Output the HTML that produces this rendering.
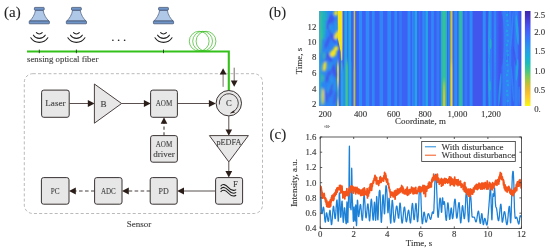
<!DOCTYPE html>
<html lang="en"><head><meta charset="utf-8"><title>Figure</title>
<style>html,body{margin:0;padding:0;background:#fff;}body{width:550px;height:252px;overflow:hidden;}svg{display:block;}text{font-family:"Liberation Serif", "DejaVu Serif", serif;fill:#333;stroke:#333;stroke-width:0.18px;stroke-opacity:0.6;}.bx{fill:#e7e7e7;stroke:#3b3333;stroke-width:1;}.ln{stroke:#5a5050;stroke-width:1;fill:none;}.ah{fill:#2b1d18;stroke:none;}.bl{font-size:9.1px;text-anchor:middle;fill:#444;}.tk{font-size:8.8px;fill:#333;}.ax{stroke:#333;stroke-width:0.8;fill:none;}</style></head><body>
<svg width="550" height="252" viewBox="0 0 550 252">
<rect x="0" y="0" width="550" height="252" fill="#ffffff"/>
<g id="panel-a">
<text x="4" y="17" style="font-size:15px;fill:#222;">(a)</text>
<path d="M35.5 10.2 L43.099999999999994 10.2 C43.9 15 46.3 18.5 48.9 21 L29.699999999999996 21 C32.3 18.5 34.699999999999996 15 35.5 10.2 Z" fill="#b0c8e8" stroke="#46597a" stroke-width="0.7"/><rect x="34.4" y="7.4" width="9.8" height="2.8" rx="0.6" fill="#6f95c9" stroke="#3c4b69" stroke-width="0.7"/><rect x="29.199999999999996" y="21" width="20.2" height="2.8" rx="0.6" fill="#6f95c9" stroke="#3c4b69" stroke-width="0.7"/>
<path d="M36.40 32.70 A3.88 3.88 0 0 0 42.20 32.70" fill="none" stroke="#222" stroke-width="1.1" stroke-linecap="round"/><path d="M33.40 35.20 A7.04 7.04 0 0 0 45.20 35.20" fill="none" stroke="#222" stroke-width="1.1" stroke-linecap="round"/><path d="M30.80 37.80 A10.15 10.15 0 0 0 47.80 37.80" fill="none" stroke="#222" stroke-width="1.1" stroke-linecap="round"/>
<path d="M72.60000000000001 10.2 L80.2 10.2 C81.0 15 83.4 18.5 86.0 21 L66.80000000000001 21 C69.4 18.5 71.80000000000001 15 72.60000000000001 10.2 Z" fill="#b0c8e8" stroke="#46597a" stroke-width="0.7"/><rect x="71.5" y="7.4" width="9.8" height="2.8" rx="0.6" fill="#6f95c9" stroke="#3c4b69" stroke-width="0.7"/><rect x="66.30000000000001" y="21" width="20.2" height="2.8" rx="0.6" fill="#6f95c9" stroke="#3c4b69" stroke-width="0.7"/>
<path d="M73.50 32.70 A3.88 3.88 0 0 0 79.30 32.70" fill="none" stroke="#222" stroke-width="1.1" stroke-linecap="round"/><path d="M70.50 35.20 A7.04 7.04 0 0 0 82.30 35.20" fill="none" stroke="#222" stroke-width="1.1" stroke-linecap="round"/><path d="M67.90 37.80 A10.15 10.15 0 0 0 84.90 37.80" fill="none" stroke="#222" stroke-width="1.1" stroke-linecap="round"/>
<path d="M159.7 10.2 L167.3 10.2 C168.1 15 170.5 18.5 173.1 21 L153.9 21 C156.5 18.5 158.9 15 159.7 10.2 Z" fill="#b0c8e8" stroke="#46597a" stroke-width="0.7"/><rect x="158.6" y="7.4" width="9.8" height="2.8" rx="0.6" fill="#6f95c9" stroke="#3c4b69" stroke-width="0.7"/><rect x="153.4" y="21" width="20.2" height="2.8" rx="0.6" fill="#6f95c9" stroke="#3c4b69" stroke-width="0.7"/>
<path d="M160.60 32.70 A3.88 3.88 0 0 0 166.40 32.70" fill="none" stroke="#222" stroke-width="1.1" stroke-linecap="round"/><path d="M157.60 35.20 A7.04 7.04 0 0 0 169.40 35.20" fill="none" stroke="#222" stroke-width="1.1" stroke-linecap="round"/><path d="M155.00 37.80 A10.15 10.15 0 0 0 172.00 37.80" fill="none" stroke="#222" stroke-width="1.1" stroke-linecap="round"/>
<text x="111.2" y="41.2" style="font-size:13px;fill:#222;letter-spacing:2.6px;">...</text>
<circle cx="199.2" cy="41.2" r="9.9" fill="none" stroke="#35b81c" stroke-width="0.7"/>
<circle cx="202.6" cy="41.2" r="9.9" fill="none" stroke="#35b81c" stroke-width="0.7"/>
<circle cx="206.0" cy="41.2" r="9.9" fill="none" stroke="#35b81c" stroke-width="0.7"/>
<path d="M27 51.5 L228.8 51.5 L228.8 91" fill="none" stroke="#34c11a" stroke-width="2.1" stroke-linejoin="miter"/>
<line x1="39.3" y1="49.6" x2="39.3" y2="53.2" stroke="#1e3a1a" stroke-width="0.9"/>
<line x1="76.4" y1="49.6" x2="76.4" y2="53.2" stroke="#1e3a1a" stroke-width="0.9"/>
<line x1="163.5" y1="49.6" x2="163.5" y2="53.2" stroke="#1e3a1a" stroke-width="0.9"/>
<text x="27" y="62.3" style="font-size:8.8px;fill:#444;">sensing optical fiber</text>
<rect x="24.3" y="73.7" width="238.2" height="139.8" rx="8.5" fill="none" stroke="#a8a8a8" stroke-width="0.8" stroke-dasharray="3 2.2"/>
<line x1="223.1" y1="73.5" x2="223.1" y2="86.8" class="ln" style="stroke:#7a6f6c"/>
<path class="ah" d="M223.1 68.2 L226.5 74.6 L219.7 74.6 Z"/>
<line x1="234.2" y1="67.7" x2="234.2" y2="81.2" class="ln" style="stroke:#7a6f6c"/>
<path class="ah" d="M234.2 86.8 L237.6 80.4 L230.8 80.4 Z"/>
<line x1="69.4" y1="103.5" x2="89" y2="103.5" class="ln"/>
<path class="ah" d="M94.6 103.5 L87.8 100.1 L87.8 106.9 Z"/>
<line x1="121.4" y1="103.5" x2="145" y2="103.5" class="ln"/>
<path class="ah" d="M150.7 103.5 L143.9 100.1 L143.9 106.9 Z"/>
<line x1="177.3" y1="103.5" x2="210" y2="103.5" class="ln"/>
<path class="ah" d="M215.9 103.5 L208.9 100.1 L208.9 106.9 Z"/>
<rect class="bx" x="41.6" y="90.1" width="27.6" height="27.2" rx="2.2"/>
<text class="bl" x="55.4" y="106.4">Laser</text>
<path class="bx" d="M94.4 84 L121.6 103.5 L94.4 123.2 Z" style="stroke:#4a4040"/>
<text class="bl" x="103.6" y="106.5">B</text>
<rect class="bx" x="150.6" y="90.1" width="26.8" height="27.2" rx="2.2"/>
<text class="bl" x="164" y="106.4" textLength="16.6" lengthAdjust="spacingAndGlyphs">AOM</text>
<circle cx="228.8" cy="103.2" r="12.7" class="bx"/>
<path d="M219.39 104.52 A9.5 9.5 0 1 1 233.26 111.59" fill="none" stroke="#3a3232" stroke-width="0.9"/>
<path class="ah" d="M229.6 113.6 L233.6 110.4 L234.9 112.4 Z"/>
<text class="bl" x="228.9" y="106.2" style="font-size:8.6px;fill:#3a3a3a">C</text>
<line x1="228.8" y1="115.9" x2="228.8" y2="131" class="ln"/>
<path class="ah" d="M228.8 135.8 L225.5 129.4 L232.1 129.4 Z"/>
<path class="bx" d="M209.4 135.6 L248.4 135.6 L228.8 161.9 Z" style="stroke:#4a4040"/>
<text class="bl" x="228.9" y="144.6" style="font-size:8.9px" textLength="25" lengthAdjust="spacingAndGlyphs">pEDFA</text>
<line x1="228.8" y1="161.9" x2="228.8" y2="172" class="ln"/>
<path class="ah" d="M228.8 177.6 L225.4 171.0 L232.2 171.0 Z"/>
<rect class="bx" x="215.6" y="177.6" width="27" height="26.6" rx="2.2"/>
<text x="233" y="187.3" style="font-size:8.8px;fill:#444;">F</text>
<path d="M220.6 186.30 C222.6 183.60 225.4 184.20 228.2 187.40 S233.4 191.20 236.2 189.60" fill="none" stroke="#1c1c1c" stroke-width="1.05"/>
<path d="M220.6 189.10 C222.6 186.40 225.4 187.00 228.2 190.20 S233.4 194.00 236.2 192.40" fill="none" stroke="#1c1c1c" stroke-width="1.05"/>
<path d="M220.6 191.90 C222.6 189.20 225.4 189.80 228.2 193.00 S233.4 196.80 236.2 195.20" fill="none" stroke="#1c1c1c" stroke-width="1.05"/>
<rect class="bx" x="150.6" y="135.6" width="26.8" height="26.6" rx="2.2"/>
<text class="bl" x="164" y="147.2" textLength="16.6" lengthAdjust="spacingAndGlyphs">AOM</text>
<text class="bl" x="164" y="156.6">driver</text>
<line x1="164" y1="135.6" x2="164" y2="122.5" class="ln" stroke-dasharray="3.4 2.4" style="stroke:#4a4040;stroke-width:1.1"/>
<path class="ah" d="M164 117.3 L167.3 123.7 L160.7 123.7 Z"/>
<line x1="215.6" y1="191" x2="183" y2="191" class="ln"/>
<path class="ah" d="M177.2 191 L184 187.6 L184 194.4 Z"/>
<rect class="bx" x="150.2" y="177.6" width="27" height="26.6" rx="2.2"/>
<text class="bl" x="163.7" y="194" textLength="10.2" lengthAdjust="spacingAndGlyphs">PD</text>
<line x1="150.2" y1="191" x2="128" y2="191" class="ln" stroke-dasharray="3.6 2.4" style="stroke:#4a4040;stroke-width:1.1"/>
<path class="ah" d="M122 191 L128.8 187.6 L128.8 194.4 Z"/>
<rect class="bx" x="94.6" y="177.6" width="27.4" height="26.6" rx="2.2"/>
<text class="bl" x="108.3" y="194" textLength="14.8" lengthAdjust="spacingAndGlyphs">ADC</text>
<line x1="94.6" y1="191" x2="75" y2="191" class="ln" stroke-dasharray="3.6 2.4" style="stroke:#4a4040;stroke-width:1.1"/>
<path class="ah" d="M69 191 L75.8 187.6 L75.8 194.4 Z"/>
<rect class="bx" x="41.4" y="177.6" width="27.6" height="26.6" rx="2.2"/>
<text class="bl" x="55.2" y="194" textLength="8.8" lengthAdjust="spacingAndGlyphs">PC</text>
<text class="bl" x="139" y="227.4" style="font-size:9px">Sensor</text>
</g>
<g id="panel-b">
<text x="269" y="17" style="font-size:14.6px;fill:#222;">(b)</text>
<defs><clipPath id="cpb"><rect x="319.3" y="11.0" width="202.2" height="95.0"/></clipPath>
<linearGradient id="cbar" x1="0" y1="0" x2="0" y2="1"><stop offset="0" stop-color="#3e26a8"/><stop offset="0.08" stop-color="#4539cf"/><stop offset="0.16" stop-color="#4752f0"/><stop offset="0.24" stop-color="#4169fd"/><stop offset="0.32" stop-color="#2f83f8"/><stop offset="0.40" stop-color="#289be8"/><stop offset="0.48" stop-color="#1baedb"/><stop offset="0.55" stop-color="#1dbbb9"/><stop offset="0.62" stop-color="#3fc68f"/><stop offset="0.69" stop-color="#7ccb5c"/><stop offset="0.76" stop-color="#bdc137"/><stop offset="0.83" stop-color="#edba31"/><stop offset="0.90" stop-color="#fdca2f"/><stop offset="0.96" stop-color="#f6e51e"/><stop offset="1" stop-color="#f9fb15"/></linearGradient><filter id="blur1" x="-20%" y="-20%" width="140%" height="140%"><feGaussianBlur stdDeviation="0.45"/></filter><filter id="blur2" x="-30%" y="-30%" width="160%" height="160%"><feGaussianBlur stdDeviation="0.9"/></filter><filter id="blury" x="-10%" y="-10%" width="120%" height="120%"><feGaussianBlur stdDeviation="0.4 3"/></filter><filter id="blurx" x="-5%" y="-5%" width="110%" height="110%"><feGaussianBlur stdDeviation="0.55 0"/></filter></defs>
<g clip-path="url(#cpb)">
<rect x="319.3" y="11.0" width="202.2" height="95.0" fill="#3c62f5"/>
<g filter="url(#blurx)">
<rect x="318" y="5" width="19.6" height="106" fill="#2f84f4"/>
<rect x="344.35" y="7.0" width="2.80" height="103.0" fill="#22a6e4" opacity="1.00"/>
<rect x="348.35" y="7.0" width="2.70" height="103.0" fill="#22a6e4" opacity="1.00"/>
<rect x="353.70" y="7.0" width="1.50" height="103.0" fill="#d4c534" opacity="1.00"/>
<rect x="358.95" y="7.0" width="3.10" height="103.0" fill="#2f8cf6" opacity="1.00"/>
<rect x="365.75" y="7.0" width="3.50" height="103.0" fill="#2f8cf6" opacity="0.96"/>
<rect x="371.95" y="7.0" width="2.70" height="103.0" fill="#2f8cf6" opacity="0.90"/>
<rect x="379.55" y="7.0" width="3.50" height="103.0" fill="#2f8cf6" opacity="0.84"/>
<rect x="387.35" y="7.0" width="3.70" height="103.0" fill="#2f8cf6" opacity="0.90"/>
<rect x="394.35" y="7.0" width="2.70" height="103.0" fill="#2f8cf6" opacity="0.90"/>
<rect x="399.35" y="7.0" width="2.50" height="103.0" fill="#2f8cf6" opacity="0.60"/>
<rect x="407.55" y="7.0" width="2.90" height="103.0" fill="#2f8cf6" opacity="1.00"/>
<rect x="411.95" y="7.0" width="1.90" height="103.0" fill="#2f8cf6" opacity="0.84"/>
<rect x="414.55" y="7.0" width="2.50" height="103.0" fill="#22a6e4" opacity="1.00"/>
<rect x="418.75" y="7.0" width="1.50" height="103.0" fill="#2f8cf6" opacity="0.36"/>
<rect x="422.35" y="7.0" width="2.40" height="103.0" fill="#2f8cf6" opacity="0.90"/>
<rect x="425.45" y="7.0" width="2.50" height="103.0" fill="#22a6e4" opacity="1.00"/>
<rect x="431.15" y="7.0" width="2.70" height="103.0" fill="#2f8cf6" opacity="0.90"/>
<rect x="436.35" y="7.0" width="2.90" height="103.0" fill="#2f8cf6" opacity="0.54"/>
<rect x="440.80" y="7.0" width="6.20" height="103.0" fill="#20b9b8" opacity="0.95"/>
<rect x="442.40" y="7.0" width="3.20" height="103.0" fill="#45c788" opacity="0.60"/>
<rect x="447.95" y="7.0" width="1.90" height="103.0" fill="#2f8cf6" opacity="0.72"/>
<rect x="450.40" y="7.0" width="2.10" height="103.0" fill="#b9c43a" opacity="1.00"/>
<rect x="450.80" y="7.0" width="1.30" height="103.0" fill="#d9c72e" opacity="0.90"/>
<rect x="454.15" y="7.0" width="2.90" height="103.0" fill="#2f8cf6" opacity="1.00"/>
<rect x="458.60" y="7.0" width="4.20" height="103.0" fill="#20b9b8" opacity="0.90"/>
<rect x="459.60" y="7.0" width="2.20" height="103.0" fill="#45c788" opacity="0.50"/>
<rect x="464.35" y="7.0" width="2.90" height="103.0" fill="#2f8cf6" opacity="0.54"/>
<rect x="469.55" y="7.0" width="2.90" height="103.0" fill="#2f8cf6" opacity="1.00"/>
<rect x="473.00" y="7.0" width="10.00" height="103.0" fill="#4350e8" opacity="0.65"/>
<rect x="482.75" y="7.0" width="2.90" height="103.0" fill="#2f8cf6" opacity="1.00"/>
<rect x="486.00" y="7.0" width="2.00" height="103.0" fill="#4350e8" opacity="0.50"/>
<rect x="488.35" y="7.0" width="3.50" height="103.0" fill="#2f8cf6" opacity="0.72"/>
<rect x="493.75" y="7.0" width="2.50" height="103.0" fill="#2f8cf6" opacity="0.66"/>
<rect x="498.60" y="7.0" width="2.40" height="103.0" fill="#4350e8" opacity="0.80"/>
<rect x="502.35" y="7.0" width="3.90" height="103.0" fill="#2f8cf6" opacity="0.66"/>
<rect x="508.75" y="7.0" width="2.50" height="103.0" fill="#2f8cf6" opacity="0.66"/>
<rect x="514.35" y="7.0" width="3.50" height="103.0" fill="#2f8cf6" opacity="0.66"/>
<rect x="519.40" y="7.0" width="2.10" height="103.0" fill="#4350e8" opacity="0.80"/>
</g>
<g filter="url(#blur1)">
<path d="M337.7 5 L342.5 5 L342.5 44 L342.3 60 L341.0 61 L340.7 52 L339 44 L337.7 38 Z" fill="#f5e51f"/>
</g>
<g filter="url(#blury)">
<rect x="340.9" y="60" width="1.5" height="9" fill="#45c788" opacity="0.9"/>
<rect x="340.8" y="68" width="3.0" height="50" fill="#22a6e4" opacity="0.9"/>
<rect x="337.1" y="63" width="1.7" height="22" fill="#f5e51f"/>
<rect x="337.1" y="86" width="1.7" height="15" fill="#45c788" opacity="0.9"/>
<rect x="337.1" y="102" width="1.7" height="12" fill="#f5e51f"/>
<rect x="345.6" y="62" width="2.3" height="56" fill="#45c788" opacity="0.9"/>
<rect x="349.6" y="62" width="2.0" height="56" fill="#22a6e4" opacity="0.6"/>
<rect x="353.7" y="68" width="1.5" height="50" fill="#b9c43a" opacity="0.9"/>
<rect x="442.8" y="82" width="2.6" height="36" fill="#b9c43a" opacity="0.85"/>
<rect x="443.3" y="92" width="1.7" height="26" fill="#e3bd33" opacity="0.95"/>
<rect x="450.6" y="64" width="1.7" height="54" fill="#f5e51f" opacity="0.55"/>
</g>
<g filter="url(#blur2)">
<ellipse cx="320.4" cy="30" rx="1.6" ry="26" transform="rotate(0 320.4 30)" fill="#45c788" opacity="0.95"/>
<ellipse cx="323.4" cy="24" rx="2.4" ry="16" transform="rotate(0 323.4 24)" fill="#20b9b8" opacity="0.9"/>
<ellipse cx="320.2" cy="80" rx="1.2" ry="28" transform="rotate(0 320.2 80)" fill="#20b9b8" opacity="0.85"/>
<ellipse cx="326.5" cy="15" rx="1.5" ry="6" transform="rotate(0 326.5 15)" fill="#20b9b8" opacity="0.6"/>
<ellipse cx="329.2" cy="22" rx="1.9" ry="8" transform="rotate(18 329.2 22)" fill="#4350e8" opacity="0.9"/>
<ellipse cx="332.4" cy="36" rx="1.7" ry="8" transform="rotate(-22 332.4 36)" fill="#4350e8" opacity="0.9"/>
<ellipse cx="327.6" cy="42" rx="1.5" ry="7" transform="rotate(20 327.6 42)" fill="#4350e8" opacity="0.85"/>
<ellipse cx="333.2" cy="20" rx="1.3" ry="6" transform="rotate(-12 333.2 20)" fill="#4350e8" opacity="0.8"/>
<ellipse cx="329.6" cy="58" rx="1.6" ry="6" transform="rotate(-25 329.6 58)" fill="#4350e8" opacity="0.85"/>
<ellipse cx="333.8" cy="70" rx="1.9" ry="8" transform="rotate(-15 333.8 70)" fill="#4350e8" opacity="0.9"/>
<ellipse cx="328.4" cy="76" rx="1.7" ry="7" transform="rotate(20 328.4 76)" fill="#4350e8" opacity="0.85"/>
<ellipse cx="331.4" cy="90" rx="1.7" ry="8" transform="rotate(15 331.4 90)" fill="#4350e8" opacity="0.85"/>
<ellipse cx="326.2" cy="96" rx="1.4" ry="7" transform="rotate(-10 326.2 96)" fill="#4350e8" opacity="0.8"/>
<ellipse cx="335" cy="98" rx="1.2" ry="7" transform="rotate(10 335 98)" fill="#4350e8" opacity="0.8"/>
<ellipse cx="326.6" cy="58" rx="1.2" ry="5" transform="rotate(20 326.6 58)" fill="#4350e8" opacity="0.7"/>
<ellipse cx="331" cy="29" rx="1.1" ry="6" transform="rotate(-20 331 29)" fill="#22a6e4" opacity="0.8"/>
<ellipse cx="335.6" cy="26" rx="1.1" ry="5" transform="rotate(-12 335.6 26)" fill="#22a6e4" opacity="0.8"/>
<ellipse cx="330.6" cy="66" rx="1.2" ry="5" transform="rotate(25 330.6 66)" fill="#22a6e4" opacity="0.8"/>
<ellipse cx="331.2" cy="80" rx="1.1" ry="5" transform="rotate(-20 331.2 80)" fill="#22a6e4" opacity="0.7"/>
<ellipse cx="328.6" cy="88" rx="1.0" ry="5" transform="rotate(20 328.6 88)" fill="#22a6e4" opacity="0.7"/>
<ellipse cx="334.2" cy="86" rx="1.0" ry="5" transform="rotate(20 334.2 86)" fill="#22a6e4" opacity="0.7"/>
<ellipse cx="336.0" cy="13" rx="2.0" ry="2.8" transform="rotate(0 336.0 13)" fill="#f5e51f" opacity="1"/>
<ellipse cx="336.8" cy="35.4" rx="2.1" ry="4.2" transform="rotate(20 336.8 35.4)" fill="#f5e51f" opacity="1"/>
<ellipse cx="333.0" cy="53.6" rx="3.0" ry="3.6" transform="rotate(30 333.0 53.6)" fill="#f5e51f" opacity="1"/>
<ellipse cx="335.8" cy="49" rx="2.2" ry="3.0" transform="rotate(30 335.8 49)" fill="#f5e51f" opacity="1"/>
<ellipse cx="324.6" cy="66.5" rx="1.7" ry="5.0" transform="rotate(8 324.6 66.5)" fill="#f5e51f" opacity="1"/>
<ellipse cx="322.9" cy="96.5" rx="1.2" ry="8.8" transform="rotate(0 322.9 96.5)" fill="#f5e51f" opacity="1"/>
<ellipse cx="322.8" cy="78" rx="1.2" ry="4" transform="rotate(0 322.8 78)" fill="#45c788" opacity="0.8"/>
<ellipse cx="324.0" cy="56" rx="1.2" ry="4" transform="rotate(0 324.0 56)" fill="#45c788" opacity="0.7"/>
</g>
<g filter="url(#blur1)">
<ellipse cx="489.4" cy="34" rx="1.2" ry="28" transform="rotate(1 489.4 34)" fill="#22a6e4" opacity="0.8"/>
<ellipse cx="489.2" cy="84" rx="1.1" ry="26" transform="rotate(-1 489.2 84)" fill="#22a6e4" opacity="0.8"/>
<ellipse cx="490.6" cy="44" rx="0.9" ry="5" transform="rotate(0 490.6 44)" fill="#20b9b8" opacity="0.85"/>
<ellipse cx="490.0" cy="86" rx="0.9" ry="5" transform="rotate(0 490.0 86)" fill="#20b9b8" opacity="0.7"/>
<ellipse cx="495.0" cy="40" rx="0.9" ry="32" transform="rotate(0 495.0 40)" fill="#2f8cf6" opacity="0.75"/>
<ellipse cx="494.6" cy="92" rx="0.8" ry="14" transform="rotate(0 494.6 92)" fill="#2f8cf6" opacity="0.6"/>
<ellipse cx="499.8" cy="90" rx="1.0" ry="17" transform="rotate(4 499.8 90)" fill="#22a6e4" opacity="0.8"/>
<ellipse cx="501.6" cy="40" rx="2.0" ry="26" transform="rotate(0 501.6 40)" fill="#4350e8" opacity="0.7"/>
<ellipse cx="507.3" cy="34" rx="1.7" ry="26" transform="rotate(0 507.3 34)" fill="#2f8cf6" opacity="0.7"/>
<ellipse cx="507.6" cy="82" rx="1.7" ry="26" transform="rotate(0 507.6 82)" fill="#2f8cf6" opacity="0.7"/>
<ellipse cx="511.9" cy="30" rx="0.9" ry="20" transform="rotate(4 511.9 30)" fill="#2f8cf6" opacity="0.8"/>
<ellipse cx="512.4" cy="84" rx="0.9" ry="18" transform="rotate(-4 512.4 84)" fill="#2f8cf6" opacity="0.7"/>
<ellipse cx="517.2" cy="30" rx="1.3" ry="15" transform="rotate(-4 517.2 30)" fill="#22a6e4" opacity="0.9"/>
<ellipse cx="517.0" cy="70" rx="1.2" ry="11" transform="rotate(4 517.0 70)" fill="#22a6e4" opacity="0.9"/>
<ellipse cx="519.2" cy="96" rx="1.0" ry="10" transform="rotate(0 519.2 96)" fill="#2f8cf6" opacity="0.7"/>
<ellipse cx="514.6" cy="56" rx="1.0" ry="10" transform="rotate(-8 514.6 56)" fill="#4350e8" opacity="0.6"/>
<ellipse cx="507.0" cy="15" rx="1.2" ry="1.3" transform="rotate(0 507.0 15)" fill="#22a6e4" opacity="0.85"/>
<ellipse cx="507.4" cy="21" rx="1.2" ry="1.3" transform="rotate(0 507.4 21)" fill="#22a6e4" opacity="0.85"/>
<ellipse cx="507.8" cy="25" rx="1.2" ry="1.3" transform="rotate(0 507.8 25)" fill="#22a6e4" opacity="0.85"/>
<ellipse cx="507.0" cy="31" rx="1.2" ry="1.3" transform="rotate(0 507.0 31)" fill="#22a6e4" opacity="0.85"/>
<ellipse cx="507.4" cy="35" rx="1.2" ry="1.3" transform="rotate(0 507.4 35)" fill="#22a6e4" opacity="0.85"/>
<ellipse cx="507.8" cy="41" rx="1.2" ry="1.3" transform="rotate(0 507.8 41)" fill="#22a6e4" opacity="0.85"/>
<ellipse cx="507.0" cy="45" rx="1.2" ry="1.3" transform="rotate(0 507.0 45)" fill="#22a6e4" opacity="0.85"/>
<ellipse cx="507.4" cy="51" rx="1.2" ry="1.3" transform="rotate(0 507.4 51)" fill="#22a6e4" opacity="0.85"/>
<ellipse cx="507.8" cy="55" rx="1.2" ry="1.3" transform="rotate(0 507.8 55)" fill="#22a6e4" opacity="0.85"/>
<ellipse cx="507.0" cy="61" rx="1.2" ry="1.3" transform="rotate(0 507.0 61)" fill="#22a6e4" opacity="0.85"/>
<ellipse cx="507.4" cy="65" rx="1.2" ry="1.3" transform="rotate(0 507.4 65)" fill="#22a6e4" opacity="0.85"/>
<ellipse cx="507.8" cy="71" rx="1.2" ry="1.3" transform="rotate(0 507.8 71)" fill="#22a6e4" opacity="0.85"/>
<ellipse cx="507.0" cy="75" rx="1.2" ry="1.3" transform="rotate(0 507.0 75)" fill="#22a6e4" opacity="0.85"/>
<ellipse cx="507.4" cy="81" rx="1.2" ry="1.3" transform="rotate(0 507.4 81)" fill="#22a6e4" opacity="0.85"/>
<ellipse cx="507.8" cy="85" rx="1.2" ry="1.3" transform="rotate(0 507.8 85)" fill="#22a6e4" opacity="0.85"/>
<ellipse cx="507.0" cy="91" rx="1.2" ry="1.3" transform="rotate(0 507.0 91)" fill="#22a6e4" opacity="0.85"/>
<ellipse cx="507.4" cy="95" rx="1.2" ry="1.3" transform="rotate(0 507.4 95)" fill="#22a6e4" opacity="0.85"/>
<ellipse cx="507.8" cy="101" rx="1.2" ry="1.3" transform="rotate(0 507.8 101)" fill="#22a6e4" opacity="0.85"/>
</g>
</g>
<rect x="524.9" y="11" width="5.6" height="95" fill="url(#cbar)"/>
<text class="tk" x="534.2" y="17.7">2.5</text>
<text class="tk" x="534.2" y="35.3">2.0</text>
<text class="tk" x="534.2" y="54.1">1.5</text>
<text class="tk" x="534.2" y="73.9">1.0</text>
<text class="tk" x="534.2" y="92.9">0.5</text>
<text class="tk" x="534.2" y="111.5">0.</text>
<text class="tk" x="316.4" y="30.4" text-anchor="end">12</text>
<text class="tk" x="316.4" y="45.3" text-anchor="end">10</text>
<text class="tk" x="316.4" y="60.3" text-anchor="end">8</text>
<text class="tk" x="316.4" y="75.9" text-anchor="end">6</text>
<text class="tk" x="316.4" y="91.5" text-anchor="end">4</text>
<text class="tk" x="316.4" y="107.10000000000001" text-anchor="end">2</text>
<text class="tk" x="325" y="117.3" text-anchor="middle">200</text>
<text class="tk" x="360.5" y="117.3" text-anchor="middle">400</text>
<text class="tk" x="393.6" y="117.3" text-anchor="middle">600</text>
<text class="tk" x="425" y="117.3" text-anchor="middle">800</text>
<text class="tk" x="457.4" y="117.3" text-anchor="middle">1,000</text>
<text class="tk" x="491" y="117.3" text-anchor="middle">1,200</text>
<text class="tk" x="420.5" y="124.2" text-anchor="middle" style="font-size:8.9px">Coordinate, m</text>
<text class="tk" transform="translate(301.8 61) rotate(-90)" text-anchor="middle" style="font-size:8.9px">Time, s</text>
</g>
<g id="panel-c">
<text x="269.6" y="139.4" style="font-size:15px;fill:#222;">(c)</text>
<text x="324" y="128" style="font-size:3.2px;fill:#777;">×10⁴</text>
<defs><clipPath id="cpc"><rect x="320.2" y="137.0" width="201.2" height="91.4"/></clipPath></defs>
<g clip-path="url(#cpc)">
<polyline fill="none" stroke="#1c80d6" stroke-width="1.25" stroke-linejoin="round" points="320.2,191.1 320.3,189.8 320.4,188.9 320.5,188.3 320.5,188.0 320.6,188.3 320.7,189.0 320.8,190.2 320.9,191.9 321.0,194.0 321.0,196.4 321.1,198.9 321.2,201.4 321.3,203.9 321.4,206.1 321.5,208.1 321.5,209.8 321.6,211.1 321.7,212.2 321.8,212.9 321.9,213.4 322.0,213.6 322.0,213.7 322.1,213.6 322.2,213.4 322.3,213.1 322.4,212.7 322.5,212.2 322.5,211.7 322.6,211.2 322.7,210.6 322.8,210.0 322.9,209.4 323.0,208.9 323.1,208.4 323.1,208.0 323.2,207.7 323.3,207.4 323.4,207.3 323.5,207.2 323.6,207.2 323.6,207.4 323.7,207.8 323.8,208.3 323.9,208.9 324.0,209.7 324.1,210.5 324.1,211.5 324.2,212.5 324.3,213.5 324.4,214.6 324.5,215.7 324.6,216.7 324.6,217.8 324.7,218.7 324.8,219.6 324.9,220.3 325.0,221.0 325.1,221.5 325.1,221.8 325.2,222.1 325.3,222.1 325.4,222.0 325.5,221.6 325.6,221.1 325.6,220.3 325.7,219.5 325.8,218.5 325.9,217.5 326.0,216.5 326.1,215.6 326.2,214.7 326.2,213.9 326.3,213.4 326.4,213.0 326.5,212.8 326.6,212.8 326.7,212.9 326.7,213.1 326.8,213.3 326.9,213.7 327.0,214.1 327.1,214.6 327.2,215.2 327.2,215.8 327.3,216.4 327.4,217.0 327.5,217.6 327.6,218.3 327.7,218.9 327.7,219.4 327.8,219.9 327.9,220.3 328.0,220.7 328.1,221.0 328.2,221.2 328.2,221.3 328.3,221.3 328.4,221.2 328.5,221.0 328.6,220.6 328.7,220.1 328.8,219.5 328.8,218.8 328.9,218.0 329.0,217.1 329.1,216.3 329.2,215.4 329.3,214.5 329.3,213.7 329.4,212.9 329.5,212.2 329.6,211.6 329.7,211.1 329.8,210.7 329.8,210.4 329.9,210.3 330.0,210.4 330.1,210.6 330.2,211.0 330.3,211.6 330.3,212.4 330.4,213.3 330.5,214.3 330.6,215.5 330.7,216.6 330.8,217.8 330.8,219.0 330.9,220.1 331.0,221.2 331.1,222.2 331.2,223.0 331.3,223.7 331.3,224.2 331.4,224.5 331.5,224.6 331.6,224.5 331.7,224.3 331.8,223.9 331.9,223.3 331.9,222.7 332.0,221.9 332.1,220.9 332.2,219.9 332.3,218.8 332.4,217.7 332.4,216.5 332.5,215.3 332.6,214.1 332.7,212.9 332.8,211.7 332.9,210.6 332.9,209.7 333.0,208.8 333.1,208.0 333.2,207.4 333.3,206.9 333.4,206.5 333.4,206.4 333.5,206.3 333.6,206.5 333.7,206.8 333.8,207.2 333.9,207.8 333.9,208.5 334.0,209.3 334.1,210.1 334.2,211.1 334.3,212.0 334.4,213.0 334.5,214.0 334.5,214.9 334.6,215.8 334.7,216.6 334.8,217.3 334.9,217.8 335.0,218.3 335.0,218.5 335.1,218.7 335.2,218.6 335.3,218.4 335.4,218.0 335.5,217.4 335.5,216.6 335.6,215.7 335.7,214.6 335.8,213.5 335.9,212.2 336.0,210.9 336.0,209.6 336.1,208.2 336.2,206.9 336.3,205.6 336.4,204.4 336.5,203.3 336.5,202.4 336.6,201.5 336.7,200.9 336.8,200.4 336.9,200.1 337.0,200.0 337.1,200.1 337.1,200.8 337.2,201.8 337.3,203.1 337.4,204.8 337.5,206.7 337.6,208.8 337.6,210.9 337.7,213.1 337.8,215.1 337.9,216.9 338.0,218.5 338.1,219.8 338.1,220.7 338.2,221.2 338.3,221.2 338.4,220.5 338.5,219.1 338.6,217.1 338.6,214.5 338.7,211.5 338.8,208.3 338.9,205.0 339.0,201.9 339.1,199.0 339.1,196.5 339.2,194.6 339.3,193.4 339.4,192.9 339.5,193.1 339.6,193.7 339.6,194.8 339.7,196.2 339.8,198.0 339.9,200.0 340.0,202.2 340.1,204.5 340.2,206.9 340.2,209.2 340.3,211.3 340.4,213.2 340.5,214.8 340.6,216.0 340.7,216.9 340.7,217.3 340.8,217.2 340.9,216.9 341.0,216.1 341.1,215.1 341.2,213.9 341.2,212.4 341.3,210.8 341.4,209.1 341.5,207.4 341.6,205.8 341.7,204.4 341.7,203.1 341.8,202.1 341.9,201.4 342.0,201.0 342.1,201.0 342.2,201.4 342.2,202.3 342.3,203.6 342.4,205.2 342.5,207.1 342.6,209.2 342.7,211.5 342.8,213.7 342.8,215.8 342.9,217.8 343.0,219.5 343.1,220.9 343.2,221.8 343.3,222.4 343.3,222.4 343.4,222.1 343.5,221.5 343.6,220.5 343.7,219.3 343.8,217.9 343.8,216.3 343.9,214.7 344.0,213.1 344.1,211.6 344.2,210.3 344.3,209.2 344.3,208.4 344.4,207.9 344.5,207.8 344.6,207.9 344.7,208.2 344.8,208.7 344.8,209.3 344.9,210.1 345.0,211.1 345.1,212.1 345.2,213.2 345.3,214.4 345.3,215.6 345.4,216.8 345.5,218.0 345.6,219.1 345.7,220.2 345.8,221.2 345.9,222.0 345.9,222.7 346.0,223.3 346.1,223.6 346.2,223.8 346.3,223.7 346.4,222.2 346.4,219.5 346.5,215.9 346.6,211.9 346.7,208.0 346.8,204.7 346.9,202.6 346.9,201.9 347.0,202.4 347.1,203.9 347.2,206.3 347.3,209.3 347.4,212.5 347.4,215.8 347.5,218.7 347.6,221.0 347.7,222.3 347.8,222.7 347.9,222.0 347.9,220.1 348.0,217.2 348.1,213.6 348.2,209.6 348.3,205.5 348.4,201.5 348.5,198.2 348.5,195.5 348.6,193.7 348.7,192.4 348.8,191.3 348.9,189.4 349.0,185.6 349.0,178.8 349.1,169.1 349.2,158.3 349.3,149.6 349.4,146.1 349.5,149.7 349.5,159.2 349.6,171.9 349.7,184.7 349.8,195.1 349.9,202.1 350.0,205.9 350.0,207.5 350.1,207.6 350.2,207.2 350.3,206.6 350.4,206.2 350.5,206.1 350.5,206.3 350.6,206.8 350.7,207.6 350.8,208.5 350.9,209.4 351.0,209.8 351.1,209.5 351.1,207.7 351.2,204.2 351.3,198.5 351.4,191.1 351.5,182.9 351.6,175.4 351.6,170.1 351.7,168.2 351.8,170.0 351.9,174.7 352.0,180.9 352.1,187.2 352.1,192.6 352.2,196.7 352.3,199.5 352.4,201.3 352.5,202.6 352.6,203.8 352.6,205.3 352.7,207.0 352.8,209.0 352.9,211.2 353.0,213.5 353.1,215.7 353.1,217.7 353.2,219.4 353.3,220.6 353.4,221.3 353.5,221.3 353.6,220.2 353.6,217.8 353.7,214.8 353.8,211.6 353.9,208.9 354.0,207.2 354.1,206.8 354.2,207.2 354.2,207.9 354.3,209.0 354.4,210.4 354.5,212.0 354.6,213.7 354.7,215.5 354.7,217.1 354.8,218.6 354.9,219.7 355.0,220.5 355.1,221.0 355.2,220.8 355.2,219.7 355.3,217.7 355.4,215.0 355.5,212.1 355.6,209.3 355.7,206.9 355.7,205.4 355.8,204.9 355.9,205.8 356.0,208.2 356.1,211.7 356.2,215.8 356.2,219.8 356.3,223.1 356.4,225.2 356.5,225.7 356.6,225.1 356.7,223.6 356.8,221.3 356.8,218.4 356.9,215.1 357.0,211.6 357.1,208.3 357.2,205.2 357.3,202.8 357.3,201.0 357.4,200.1 357.5,200.1 357.6,200.5 357.7,201.4 357.8,202.6 357.8,204.0 357.9,205.7 358.0,207.6 358.1,209.5 358.2,211.3 358.3,212.9 358.3,214.4 358.4,215.5 358.5,216.2 358.6,216.6 358.7,216.6 358.8,216.4 358.8,216.1 358.9,215.7 359.0,215.2 359.1,214.6 359.2,213.9 359.3,213.1 359.4,212.3 359.4,211.5 359.5,210.6 359.6,209.7 359.7,208.8 359.8,208.0 359.9,207.2 359.9,206.5 360.0,205.9 360.1,205.4 360.2,205.0 360.3,204.7 360.4,204.5 360.4,204.5 360.5,204.6 360.6,204.8 360.7,205.2 360.8,205.8 360.9,206.4 360.9,207.2 361.0,208.1 361.1,209.1 361.2,210.1 361.3,211.2 361.4,212.3 361.4,213.4 361.5,214.4 361.6,215.5 361.7,216.5 361.8,217.4 361.9,218.2 361.9,218.9 362.0,219.5 362.1,219.9 362.2,220.2 362.3,220.3 362.4,220.3 362.5,220.1 362.5,219.5 362.6,218.7 362.7,217.7 362.8,216.4 362.9,215.0 363.0,213.4 363.0,211.7 363.1,209.9 363.2,208.0 363.3,206.1 363.4,204.3 363.5,202.5 363.5,200.9 363.6,199.4 363.7,198.1 363.8,196.9 363.9,196.1 364.0,195.4 364.0,195.1 364.1,195.0 364.2,195.1 364.3,195.4 364.4,196.0 364.5,196.8 364.5,197.7 364.6,198.8 364.7,200.1 364.8,201.5 364.9,202.9 365.0,204.5 365.1,206.1 365.1,207.6 365.2,209.2 365.3,210.7 365.4,212.1 365.5,213.4 365.6,214.6 365.6,215.7 365.7,216.5 365.8,217.2 365.9,217.6 366.0,217.9 366.1,217.9 366.1,217.8 366.2,217.5 366.3,217.1 366.4,216.6 366.5,215.9 366.6,215.2 366.6,214.4 366.7,213.5 366.8,212.5 366.9,211.5 367.0,210.5 367.1,209.6 367.1,208.6 367.2,207.7 367.3,206.8 367.4,206.1 367.5,205.4 367.6,204.8 367.6,204.4 367.7,204.1 367.8,204.0 367.9,203.9 368.0,204.1 368.1,204.5 368.2,205.0 368.2,205.8 368.3,206.7 368.4,207.7 368.5,208.8 368.6,210.0 368.7,211.3 368.7,212.6 368.8,213.9 368.9,215.2 369.0,216.4 369.1,217.5 369.2,218.5 369.2,219.3 369.3,220.0 369.4,220.5 369.5,220.8 369.6,220.9 369.7,220.8 369.7,220.4 369.8,219.8 369.9,219.0 370.0,217.9 370.1,216.7 370.2,215.4 370.2,213.9 370.3,212.3 370.4,210.7 370.5,209.1 370.6,207.5 370.7,205.9 370.8,204.5 370.8,203.1 370.9,201.9 371.0,200.9 371.1,200.2 371.2,199.6 371.3,199.2 371.3,199.2 371.4,199.3 371.5,199.6 371.6,200.1 371.7,200.8 371.8,201.7 371.8,202.7 371.9,203.9 372.0,205.2 372.1,206.5 372.2,207.9 372.3,209.4 372.3,210.8 372.4,212.3 372.5,213.6 372.6,214.9 372.7,216.1 372.8,217.2 372.8,218.1 372.9,218.9 373.0,219.5 373.1,219.9 373.2,220.1 373.3,220.0 373.4,219.6 373.4,218.9 373.5,217.8 373.6,216.4 373.7,214.8 373.8,213.0 373.9,211.2 373.9,209.3 374.0,207.5 374.1,205.9 374.2,204.5 374.3,203.3 374.4,202.5 374.4,202.1 374.5,202.1 374.6,202.5 374.7,203.3 374.8,204.6 374.9,206.2 374.9,208.1 375.0,210.2 375.1,212.3 375.2,214.3 375.3,216.2 375.4,217.8 375.4,219.1 375.5,219.9 375.6,220.3 375.7,220.2 375.8,219.3 375.9,217.8 375.9,215.7 376.0,213.2 376.1,210.4 376.2,207.5 376.3,204.6 376.4,202.0 376.5,199.7 376.5,198.0 376.6,196.9 376.7,196.5 376.8,196.8 376.9,197.7 377.0,199.2 377.0,201.1 377.1,203.4 377.2,205.9 377.3,208.6 377.4,211.2 377.5,213.7 377.5,215.9 377.6,217.7 377.7,219.0 377.8,219.7 377.9,219.8 378.0,219.4 378.0,218.5 378.1,217.3 378.2,215.6 378.3,213.7 378.4,211.4 378.5,208.9 378.5,206.3 378.6,203.7 378.7,201.2 378.8,198.8 378.9,196.7 379.0,195.0 379.1,193.6 379.1,192.5 379.2,191.8 379.3,191.3 379.4,191.0 379.5,190.7 379.6,190.5 379.6,190.4 379.7,190.3 379.8,190.4 379.9,190.7 380.0,191.3 380.1,192.2 380.1,193.6 380.2,195.4 380.3,197.6 380.4,200.2 380.5,203.0 380.6,206.0 380.6,208.9 380.7,211.8 380.8,214.4 380.9,216.7 381.0,218.7 381.1,220.3 381.1,221.4 381.2,222.1 381.3,222.4 381.4,222.2 381.5,221.8 381.6,221.0 381.6,219.9 381.7,218.5 381.8,216.9 381.9,215.2 382.0,213.3 382.1,211.4 382.2,209.3 382.2,207.3 382.3,205.3 382.4,203.4 382.5,201.6 382.6,200.0 382.7,198.5 382.7,197.2 382.8,196.2 382.9,195.5 383.0,195.0 383.1,194.8 383.2,194.9 383.2,195.3 383.3,196.0 383.4,197.0 383.5,198.2 383.6,199.6 383.7,201.2 383.7,202.9 383.8,204.7 383.9,206.5 384.0,208.2 384.1,209.8 384.2,211.3 384.2,212.4 384.3,213.3 384.4,213.8 384.5,213.9 384.6,213.5 384.7,212.7 384.8,211.6 384.8,210.1 384.9,208.2 385.0,206.2 385.1,203.9 385.2,201.5 385.3,199.0 385.3,196.6 385.4,194.3 385.5,192.2 385.6,190.4 385.7,188.9 385.8,187.7 385.8,186.8 385.9,186.2 386.0,185.8 386.1,185.7 386.2,185.8 386.3,186.1 386.3,186.4 386.4,186.9 386.5,187.5 386.6,188.2 386.7,189.1 386.8,190.2 386.8,191.5 386.9,193.0 387.0,194.7 387.1,196.6 387.2,198.7 387.3,200.8 387.4,203.0 387.4,205.1 387.5,207.1 387.6,208.8 387.7,210.3 387.8,211.5 387.9,212.3 387.9,212.8 388.0,212.8 388.1,212.4 388.2,211.5 388.3,210.2 388.4,208.6 388.4,206.8 388.5,204.9 388.6,203.1 388.7,201.5 388.8,200.1 388.9,199.0 388.9,198.4 389.0,198.2 389.1,198.4 389.2,198.9 389.3,199.6 389.4,200.7 389.4,202.1 389.5,203.6 389.6,205.3 389.7,207.2 389.8,209.2 389.9,211.2 389.9,213.1 390.0,215.1 390.1,216.9 390.2,218.5 390.3,220.0 390.4,221.2 390.5,222.1 390.5,222.8 390.6,223.1 390.7,223.2 390.8,222.9 390.9,222.3 391.0,221.5 391.0,220.3 391.1,219.0 391.2,217.5 391.3,215.8 391.4,214.0 391.5,212.2 391.5,210.3 391.6,208.5 391.7,206.8 391.8,205.2 391.9,203.8 392.0,202.6 392.0,201.6 392.1,200.9 392.2,200.5 392.3,200.4 392.4,200.5 392.5,200.8 392.5,201.3 392.6,202.0 392.7,202.9 392.8,203.9 392.9,205.0 393.0,206.3 393.1,207.7 393.1,209.1 393.2,210.6 393.3,212.1 393.4,213.5 393.5,215.0 393.6,216.3 393.6,217.6 393.7,218.7 393.8,219.7 393.9,220.6 394.0,221.3 394.1,221.8 394.1,222.1 394.2,222.2 394.3,222.2 394.4,222.1 394.5,221.8 394.6,221.5 394.6,221.1 394.7,220.7 394.8,220.1 394.9,219.5 395.0,218.9 395.1,218.1 395.1,217.4 395.2,216.6 395.3,215.7 395.4,214.9 395.5,214.0 395.6,213.2 395.6,212.3 395.7,211.5 395.8,210.7 395.9,209.9 396.0,209.2 396.1,208.6 396.2,208.0 396.2,207.4 396.3,207.0 396.4,206.6 396.5,206.3 396.6,206.1 396.7,206.0 396.7,206.0 396.8,206.0 396.9,206.2 397.0,206.5 397.1,206.9 397.2,207.5 397.2,208.1 397.3,208.7 397.4,209.5 397.5,210.3 397.6,211.1 397.7,211.9 397.7,212.8 397.8,213.6 397.9,214.4 398.0,215.2 398.1,215.9 398.2,216.5 398.2,217.1 398.3,217.5 398.4,217.9 398.5,218.1 398.6,218.2 398.7,218.2 398.8,218.0 398.8,217.5 398.9,216.7 399.0,215.7 399.1,214.6 399.2,213.2 399.3,211.8 399.3,210.4 399.4,208.9 399.5,207.5 399.6,206.3 399.7,205.2 399.8,204.2 399.8,203.6 399.9,203.1 400.0,203.0 400.1,203.0 400.2,203.3 400.3,203.7 400.3,204.2 400.4,204.9 400.5,205.7 400.6,206.6 400.7,207.6 400.8,208.8 400.8,209.9 400.9,211.2 401.0,212.4 401.1,213.7 401.2,215.0 401.3,216.2 401.4,217.4 401.4,218.5 401.5,219.5 401.6,220.5 401.7,221.2 401.8,221.9 401.9,222.4 401.9,222.8 402.0,223.0 402.1,223.1 402.2,223.0 402.3,222.8 402.4,222.6 402.4,222.2 402.5,221.8 402.6,221.2 402.7,220.6 402.8,219.9 402.9,219.2 402.9,218.4 403.0,217.6 403.1,216.7 403.2,215.8 403.3,214.9 403.4,214.0 403.4,213.1 403.5,212.3 403.6,211.4 403.7,210.6 403.8,209.9 403.9,209.3 403.9,208.7 404.0,208.2 404.1,207.7 404.2,207.4 404.3,207.2 404.4,207.0 404.5,207.0 404.5,207.1 404.6,207.3 404.7,207.7 404.8,208.1 404.9,208.8 405.0,209.5 405.0,210.3 405.1,211.2 405.2,212.2 405.3,213.2 405.4,214.2 405.5,215.2 405.5,216.2 405.6,217.2 405.7,218.1 405.8,219.0 405.9,219.7 406.0,220.4 406.0,220.9 406.1,221.4 406.2,221.6 406.3,221.8 406.4,221.8 406.5,221.7 406.5,221.6 406.6,221.3 406.7,221.0 406.8,220.7 406.9,220.2 407.0,219.7 407.1,219.2 407.1,218.6 407.2,218.0 407.3,217.3 407.4,216.6 407.5,216.0 407.6,215.3 407.6,214.6 407.7,214.0 407.8,213.4 407.9,212.8 408.0,212.2 408.1,211.7 408.1,211.3 408.2,211.0 408.3,210.7 408.4,210.4 408.5,210.3 408.6,210.2 408.6,210.3 408.7,210.4 408.8,210.7 408.9,211.1 409.0,211.6 409.1,212.2 409.1,212.9 409.2,213.7 409.3,214.5 409.4,215.4 409.5,216.3 409.6,217.2 409.7,218.1 409.7,218.9 409.8,219.7 409.9,220.5 410.0,221.2 410.1,221.7 410.2,222.2 410.2,222.6 410.3,222.8 410.4,223.0 410.5,222.9 410.6,222.7 410.7,222.4 410.7,221.9 410.8,221.2 410.9,220.4 411.0,219.5 411.1,218.5 411.2,217.3 411.2,216.1 411.3,214.9 411.4,213.6 411.5,212.3 411.6,211.1 411.7,209.8 411.7,208.7 411.8,207.6 411.9,206.6 412.0,205.7 412.1,205.0 412.2,204.4 412.2,203.9 412.3,203.6 412.4,203.5 412.5,203.6 412.6,203.8 412.7,204.3 412.8,204.9 412.8,205.7 412.9,206.6 413.0,207.7 413.1,208.8 413.2,210.1 413.3,211.3 413.3,212.6 413.4,213.8 413.5,215.0 413.6,216.1 413.7,217.1 413.8,217.9 413.8,218.6 413.9,219.2 414.0,219.5 414.1,219.7 414.2,219.6 414.3,219.4 414.3,219.0 414.4,218.5 414.5,217.8 414.6,217.0 414.7,216.1 414.8,215.0 414.8,213.9 414.9,212.8 415.0,211.6 415.1,210.4 415.2,209.3 415.3,208.2 415.4,207.1 415.4,206.2 415.5,205.3 415.6,204.6 415.7,204.1 415.8,203.7 415.9,203.4 415.9,203.3 416.0,203.5 416.1,203.8 416.2,204.4 416.3,205.2 416.4,206.2 416.4,207.3 416.5,208.6 416.6,209.9 416.7,211.4 416.8,212.8 416.9,214.3 416.9,215.7 417.0,217.0 417.1,218.2 417.2,219.3 417.3,220.2 417.4,220.9 417.4,221.4 417.5,221.6 417.6,221.6 417.7,221.5 417.8,221.1 417.9,220.6 417.9,219.8 418.0,218.9 418.1,217.8 418.2,216.6 418.3,215.1 418.4,213.5 418.5,211.7 418.5,209.8 418.6,207.7 418.7,205.6 418.8,203.5 418.9,201.3 419.0,199.1 419.0,197.1 419.1,195.2 419.2,193.4 419.3,191.8 419.4,190.4 419.5,189.3 419.5,188.4 419.6,187.6 419.7,187.1 419.8,186.8 419.9,186.6 420.0,186.5 420.0,186.6 420.1,186.7 420.2,187.1 420.3,187.5 420.4,188.1 420.5,188.9 420.5,189.9 420.6,191.1 420.7,192.5 420.8,194.2 420.9,196.0 421.0,198.1 421.1,200.2 421.1,202.5 421.2,204.8 421.3,207.2 421.4,209.4 421.5,211.6 421.6,213.7 421.6,215.6 421.7,217.3 421.8,218.9 421.9,220.2 422.0,221.4 422.1,222.3 422.1,223.0 422.2,223.4 422.3,223.7 422.4,223.7 422.5,223.6 422.6,223.4 422.6,223.0 422.7,222.5 422.8,221.9 422.9,221.2 423.0,220.4 423.1,219.5 423.1,218.6 423.2,217.7 423.3,216.8 423.4,216.0 423.5,215.2 423.6,214.4 423.7,213.8 423.7,213.2 423.8,212.7 423.9,212.4 424.0,212.2 424.1,212.2 424.2,212.2 424.2,212.4 424.3,212.6 424.4,212.9 424.5,213.2 424.6,213.7 424.7,214.2 424.7,214.7 424.8,215.3 424.9,215.9 425.0,216.5 425.1,217.2 425.2,217.8 425.2,218.5 425.3,219.1 425.4,219.7 425.5,220.2 425.6,220.7 425.7,221.1 425.7,221.5 425.8,221.8 425.9,222.0 426.0,222.1 426.1,222.2 426.2,222.2 426.2,222.1 426.3,222.0 426.4,221.8 426.5,221.5 426.6,221.2 426.7,220.9 426.8,220.5 426.8,220.1 426.9,219.6 427.0,219.2 427.1,218.7 427.2,218.2 427.3,217.7 427.3,217.2 427.4,216.7 427.5,216.2 427.6,215.8 427.7,215.4 427.8,215.0 427.8,214.6 427.9,214.3 428.0,214.1 428.1,213.9 428.2,213.7 428.3,213.6 428.3,213.6 428.4,213.6 428.5,213.7 428.6,213.8 428.7,213.9 428.8,214.1 428.8,214.3 428.9,214.5 429.0,214.8 429.1,215.1 429.2,215.4 429.3,215.7 429.4,216.1 429.4,216.4 429.5,216.8 429.6,217.1 429.7,217.4 429.8,217.8 429.9,218.1 429.9,218.3 430.0,218.6 430.1,218.8 430.2,219.0 430.3,219.1 430.4,219.2 430.4,219.3 430.5,219.3 430.6,219.3 430.7,219.2 430.8,219.1 430.9,218.9 430.9,218.7 431.0,218.4 431.1,218.1 431.2,217.7 431.3,217.3 431.4,216.9 431.4,216.4 431.5,216.0 431.6,215.5 431.7,215.1 431.8,214.6 431.9,214.2 431.9,213.8 432.0,213.5 432.1,213.1 432.2,212.8 432.3,212.6 432.4,212.3 432.5,212.1 432.5,212.0 432.6,211.9 432.7,211.9 432.8,212.0 432.9,212.2 433.0,212.5 433.0,212.8 433.1,213.0 433.2,213.2 433.3,213.4 433.4,213.4 433.5,213.3 433.5,213.0 433.6,212.5 433.7,211.7 433.8,210.7 433.9,209.5 434.0,208.0 434.0,206.2 434.1,204.2 434.2,202.0 434.3,199.7 434.4,197.1 434.5,194.3 434.5,191.6 434.6,188.8 434.7,186.3 434.8,183.8 434.9,181.7 435.0,179.8 435.1,178.2 435.1,176.9 435.2,175.9 435.3,175.2 435.4,174.7 435.5,174.4 435.6,174.3 435.6,174.4 435.7,174.6 435.8,175.0 435.9,175.6 436.0,176.2 436.1,177.1 436.1,178.1 436.2,179.3 436.3,180.7 436.4,182.2 436.5,183.9 436.6,185.8 436.6,187.9 436.7,190.0 436.8,192.3 436.9,194.7 437.0,197.1 437.1,199.5 437.1,201.9 437.2,204.3 437.3,206.5 437.4,208.6 437.5,210.5 437.6,212.2 437.7,213.7 437.7,214.9 437.8,215.9 437.9,216.6 438.0,217.1 438.1,217.3 438.2,217.4 438.2,217.2 438.3,216.8 438.4,216.2 438.5,215.5 438.6,214.6 438.7,213.6 438.7,212.5 438.8,211.3 438.9,210.1 439.0,208.9 439.1,207.6 439.2,206.3 439.2,205.1 439.3,203.9 439.4,202.8 439.5,201.8 439.6,200.9 439.7,200.0 439.7,199.4 439.8,198.8 439.9,198.4 440.0,198.1 440.1,198.0 440.2,198.0 440.2,198.3 440.3,198.7 440.4,199.3 440.5,200.0 440.6,200.9 440.7,201.9 440.8,203.1 440.8,204.3 440.9,205.6 441.0,206.9 441.1,208.2 441.2,209.4 441.3,210.5 441.3,211.4 441.4,212.0 441.5,212.4 441.6,212.3 441.7,211.9 441.8,211.1 441.8,209.9 441.9,208.4 442.0,206.7 442.1,204.9 442.2,203.0 442.3,201.3 442.3,199.9 442.4,198.8 442.5,198.1 442.6,197.9 442.7,198.1 442.8,198.7 442.8,199.5 442.9,200.5 443.0,201.5 443.1,202.4 443.2,203.2 443.3,203.8 443.4,204.2 443.4,204.3 443.5,204.2 443.6,204.0 443.7,203.6 443.8,203.2 443.9,202.8 443.9,202.4 444.0,202.0 444.1,201.8 444.2,201.7 444.3,201.7 444.4,201.8 444.4,202.1 444.5,202.6 444.6,203.2 444.7,203.9 444.8,204.7 444.9,205.7 444.9,206.7 445.0,207.8 445.1,208.9 445.2,210.1 445.3,211.3 445.4,212.5 445.4,213.7 445.5,214.8 445.6,215.9 445.7,216.9 445.8,217.8 445.9,218.6 445.9,219.2 446.0,219.7 446.1,220.1 446.2,220.3 446.3,220.4 446.4,220.3 446.5,219.9 446.5,219.3 446.6,218.5 446.7,217.5 446.8,216.4 446.9,215.1 447.0,213.7 447.0,212.3 447.1,210.8 447.2,209.4 447.3,208.0 447.4,206.7 447.5,205.6 447.5,204.6 447.6,203.8 447.7,203.3 447.8,202.9 447.9,202.8 448.0,202.9 448.0,203.1 448.1,203.5 448.2,204.1 448.3,204.8 448.4,205.6 448.5,206.5 448.5,207.6 448.6,208.6 448.7,209.8 448.8,210.9 448.9,212.1 449.0,213.2 449.1,214.3 449.1,215.4 449.2,216.3 449.3,217.2 449.4,217.9 449.5,218.5 449.6,218.9 449.6,219.2 449.7,219.4 449.8,219.3 449.9,219.1 450.0,218.8 450.1,218.2 450.1,217.5 450.2,216.7 450.3,215.8 450.4,214.8 450.5,213.8 450.6,212.7 450.6,211.7 450.7,210.8 450.8,210.0 450.9,209.3 451.0,208.7 451.1,208.3 451.1,208.1 451.2,208.0 451.3,208.2 451.4,208.5 451.5,209.0 451.6,209.6 451.7,210.4 451.7,211.3 451.8,212.3 451.9,213.3 452.0,214.3 452.1,215.3 452.2,216.2 452.2,217.0 452.3,217.7 452.4,218.2 452.5,218.5 452.6,218.7 452.7,218.6 452.7,218.5 452.8,218.2 452.9,217.9 453.0,217.4 453.1,216.8 453.2,216.2 453.2,215.4 453.3,214.6 453.4,213.7 453.5,212.7 453.6,211.7 453.7,210.7 453.7,209.6 453.8,208.5 453.9,207.5 454.0,206.4 454.1,205.4 454.2,204.4 454.2,203.5 454.3,202.7 454.4,201.9 454.5,201.2 454.6,200.6 454.7,200.0 454.8,199.6 454.8,199.3 454.9,199.2 455.0,199.1 455.1,199.2 455.2,199.5 455.3,200.0 455.3,200.6 455.4,201.5 455.5,202.5 455.6,203.7 455.7,204.9 455.8,206.3 455.8,207.6 455.9,209.1 456.0,210.5 456.1,211.8 456.2,213.1 456.3,214.3 456.3,215.3 456.4,216.3 456.5,217.0 456.6,217.6 456.7,217.9 456.8,218.1 456.8,218.1 456.9,217.9 457.0,217.7 457.1,217.4 457.2,216.9 457.3,216.4 457.4,215.8 457.4,215.1 457.5,214.4 457.6,213.6 457.7,212.7 457.8,211.9 457.9,211.0 457.9,210.1 458.0,209.2 458.1,208.3 458.2,207.4 458.3,206.6 458.4,205.8 458.4,205.1 458.5,204.5 458.6,203.9 458.7,203.4 458.8,203.0 458.9,202.7 458.9,202.6 459.0,202.5 459.1,202.5 459.2,202.9 459.3,203.4 459.4,204.2 459.4,205.3 459.5,206.5 459.6,207.8 459.7,209.3 459.8,210.9 459.9,212.5 460.0,214.2 460.0,215.7 460.1,217.2 460.2,218.6 460.3,219.9 460.4,220.9 460.5,221.7 460.5,222.4 460.6,222.7 460.7,222.8 460.8,222.7 460.9,222.4 461.0,222.0 461.0,221.4 461.1,220.6 461.2,219.7 461.3,218.7 461.4,217.6 461.5,216.5 461.5,215.3 461.6,214.1 461.7,212.8 461.8,211.7 461.9,210.5 462.0,209.5 462.0,208.5 462.1,207.7 462.2,207.0 462.3,206.4 462.4,206.0 462.5,205.8 462.5,205.7 462.6,205.8 462.7,206.1 462.8,206.4 462.9,206.9 463.0,207.5 463.1,208.2 463.1,209.0 463.2,209.8 463.3,210.7 463.4,211.6 463.5,212.6 463.6,213.5 463.6,214.5 463.7,215.3 463.8,216.1 463.9,216.9 464.0,217.5 464.1,218.0 464.1,218.4 464.2,218.6 464.3,218.7 464.4,218.6 464.5,218.3 464.6,218.0 464.6,217.4 464.7,216.8 464.8,216.0 464.9,215.0 465.0,213.9 465.1,212.6 465.1,211.1 465.2,209.6 465.3,207.9 465.4,206.1 465.5,204.3 465.6,202.5 465.7,200.7 465.7,199.0 465.8,197.4 465.9,196.0 466.0,194.7 466.1,193.7 466.2,192.9 466.2,192.3 466.3,192.0 466.4,191.8 466.5,191.9 466.6,192.3 466.7,192.7 466.7,193.4 466.8,194.2 466.9,195.1 467.0,196.2 467.1,197.4 467.2,198.7 467.2,200.1 467.3,201.7 467.4,203.3 467.5,205.0 467.6,206.7 467.7,208.5 467.7,210.2 467.8,211.9 467.9,213.5 468.0,215.1 468.1,216.5 468.2,217.8 468.2,218.9 468.3,219.9 468.4,220.7 468.5,221.3 468.6,221.7 468.7,221.9 468.8,221.8 468.8,221.4 468.9,220.6 469.0,219.2 469.1,217.4 469.2,215.1 469.3,212.5 469.3,209.8 469.4,207.0 469.5,204.3 469.6,201.8 469.7,199.7 469.8,198.0 469.8,196.7 469.9,195.8 470.0,195.3 470.1,195.0 470.2,194.9 470.3,194.9 470.3,194.9 470.4,195.0 470.5,195.2 470.6,195.4 470.7,195.8 470.8,196.4 470.8,197.2 470.9,198.2 471.0,199.4 471.1,200.8 471.2,202.3 471.3,203.9 471.4,205.6 471.4,207.2 471.5,208.9 471.6,210.4 471.7,211.8 471.8,213.1 471.9,214.2 471.9,215.2 472.0,215.9 472.1,216.5 472.2,216.9 472.3,217.1 472.4,217.2 472.4,217.2 472.5,217.2 472.6,217.2 472.7,217.2 472.8,217.2 472.9,217.2 472.9,217.2 473.0,217.2 473.1,217.2 473.2,217.2 473.3,217.2 473.4,217.2 473.4,217.2 473.5,217.2 473.6,217.2 473.7,217.2 473.8,217.2 473.9,217.2 474.0,217.2 474.0,217.2 474.1,217.2 474.2,217.2 474.3,217.3 474.4,217.4 474.5,217.5 474.5,217.7 474.6,217.9 474.7,218.1 474.8,218.4 474.9,218.7 475.0,219.1 475.0,219.4 475.1,219.7 475.2,220.1 475.3,220.4 475.4,220.7 475.5,221.0 475.5,221.2 475.6,221.5 475.7,221.6 475.8,221.8 475.9,221.9 476.0,221.9 476.0,221.9 476.1,221.8 476.2,221.7 476.3,221.5 476.4,221.2 476.5,220.9 476.5,220.5 476.6,220.1 476.7,219.7 476.8,219.2 476.9,218.7 477.0,218.1 477.1,217.5 477.1,217.0 477.2,216.4 477.3,215.8 477.4,215.3 477.5,214.7 477.6,214.2 477.6,213.7 477.7,213.2 477.8,212.8 477.9,212.4 478.0,212.0 478.1,211.7 478.1,211.5 478.2,211.3 478.3,211.2 478.4,211.2 478.5,211.2 478.6,211.3 478.6,211.6 478.7,211.9 478.8,212.4 478.9,212.9 479.0,213.6 479.1,214.3 479.1,215.1 479.2,215.9 479.3,216.7 479.4,217.5 479.5,218.4 479.6,219.2 479.7,220.0 479.7,220.7 479.8,221.4 479.9,222.0 480.0,222.5 480.1,222.9 480.2,223.1 480.2,223.3 480.3,223.4 480.4,223.3 480.5,223.1 480.6,222.7 480.7,222.2 480.7,221.5 480.8,220.8 480.9,220.0 481.0,219.1 481.1,218.2 481.2,217.3 481.2,216.5 481.3,215.7 481.4,215.0 481.5,214.5 481.6,214.0 481.7,213.7 481.7,213.6 481.8,213.6 481.9,213.7 482.0,214.0 482.1,214.5 482.2,215.1 482.2,215.8 482.3,216.5 482.4,217.4 482.5,218.3 482.6,219.2 482.7,220.1 482.8,221.0 482.8,221.9 482.9,222.6 483.0,223.3 483.1,223.9 483.2,224.3 483.3,224.6 483.3,224.7 483.4,224.7 483.5,224.6 483.6,224.3 483.7,224.0 483.8,223.5 483.8,223.0 483.9,222.5 484.0,221.8 484.1,221.2 484.2,220.6 484.3,220.0 484.3,219.5 484.4,219.1 484.5,218.7 484.6,218.5 484.7,218.4 484.8,218.3 484.8,218.4 484.9,218.5 485.0,218.6 485.1,218.8 485.2,219.0 485.3,219.3 485.4,219.6 485.4,220.0 485.5,220.3 485.6,220.7 485.7,221.1 485.8,221.5 485.9,221.9 485.9,222.4 486.0,222.8 486.1,223.1 486.2,223.5 486.3,223.8 486.4,224.1 486.4,224.4 486.5,224.6 486.6,224.8 486.7,224.9 486.8,225.0 486.9,225.1 486.9,225.0 487.0,224.9 487.1,224.7 487.2,224.3 487.3,223.9 487.4,223.4 487.4,222.8 487.5,222.1 487.6,221.4 487.7,220.6 487.8,219.7 487.9,218.8 488.0,217.8 488.0,216.8 488.1,215.8 488.2,214.8 488.3,213.7 488.4,212.7 488.5,211.6 488.5,210.6 488.6,209.5 488.7,208.5 488.8,207.4 488.9,206.4 489.0,205.3 489.0,204.2 489.1,203.2 489.2,202.1 489.3,200.9 489.4,199.7 489.5,198.5 489.5,197.3 489.6,196.0 489.7,194.7 489.8,193.4 489.9,192.1 490.0,190.9 490.0,189.7 490.1,188.7 490.2,188.0 490.3,187.4 490.4,187.3 490.5,187.5 490.5,188.1 490.6,189.1 490.7,190.5 490.8,192.3 490.9,194.5 491.0,196.9 491.1,199.6 491.1,202.4 491.2,205.2 491.3,207.9 491.4,210.5 491.5,212.9 491.6,215.1 491.6,216.9 491.7,218.5 491.8,219.5 491.9,219.8 492.0,219.3 492.1,218.2 492.1,216.5 492.2,214.3 492.3,211.7 492.4,209.0 492.5,206.1 492.6,203.4 492.6,200.7 492.7,198.4 492.8,196.5 492.9,195.0 493.0,194.0 493.1,193.6 493.1,193.5 493.2,193.7 493.3,194.1 493.4,194.7 493.5,195.2 493.6,195.8 493.7,196.1 493.7,196.3 493.8,196.2 493.9,195.7 494.0,194.9 494.1,193.8 494.2,192.6 494.2,191.3 494.3,190.0 494.4,189.0 494.5,188.3 494.6,188.0 494.7,188.3 494.7,189.0 494.8,190.2 494.9,191.8 495.0,193.6 495.1,195.6 495.2,197.6 495.2,199.5 495.3,201.3 495.4,202.8 495.5,204.1 495.6,205.1 495.7,205.8 495.7,206.4 495.8,206.7 495.9,206.9 496.0,207.1 496.1,207.2 496.2,207.4 496.2,207.6 496.3,207.8 496.4,208.1 496.5,208.4 496.6,208.7 496.7,209.1 496.8,209.6 496.8,210.1 496.9,210.7 497.0,211.3 497.1,212.0 497.2,212.7 497.3,213.4 497.3,214.1 497.4,214.8 497.5,215.5 497.6,216.3 497.7,216.9 497.8,217.6 497.8,218.2 497.9,218.8 498.0,219.3 498.1,219.7 498.2,220.1 498.3,220.4 498.3,220.6 498.4,220.7 498.5,220.7 498.6,220.7 498.7,220.5 498.8,220.3 498.8,219.9 498.9,219.5 499.0,218.9 499.1,218.3 499.2,217.6 499.3,216.8 499.4,216.0 499.4,215.2 499.5,214.3 499.6,213.4 499.7,212.4 499.8,211.5 499.9,210.6 499.9,209.7 500.0,208.9 500.1,208.0 500.2,207.3 500.3,206.6 500.4,206.0 500.4,205.4 500.5,205.0 500.6,204.6 500.7,204.4 500.8,204.2 500.9,204.2 500.9,204.3 501.0,204.8 501.1,205.5 501.2,206.5 501.3,207.7 501.4,209.1 501.4,210.7 501.5,212.3 501.6,213.9 501.7,215.5 501.8,217.1 501.9,218.5 502.0,219.7 502.0,220.8 502.1,221.5 502.2,222.0 502.3,222.2 502.4,222.2 502.5,222.1 502.5,221.9 502.6,221.6 502.7,221.3 502.8,220.9 502.9,220.5 503.0,220.0 503.0,219.4 503.1,218.9 503.2,218.2 503.3,217.6 503.4,217.0 503.5,216.3 503.5,215.7 503.6,215.1 503.7,214.5 503.8,213.9 503.9,213.4 504.0,213.0 504.0,212.5 504.1,212.2 504.2,211.9 504.3,211.7 504.4,211.6 504.5,211.6 504.5,211.6 504.6,211.7 504.7,211.9 504.8,212.1 504.9,212.5 505.0,212.9 505.1,213.3 505.1,213.8 505.2,214.4 505.3,215.0 505.4,215.6 505.5,216.3 505.6,217.0 505.6,217.7 505.7,218.4 505.8,219.1 505.9,219.8 506.0,220.4 506.1,221.1 506.1,221.7 506.2,222.2 506.3,222.8 506.4,223.2 506.5,223.6 506.6,224.0 506.6,224.2 506.7,224.4 506.8,224.6 506.9,224.6 507.0,224.6 507.1,224.4 507.1,224.2 507.2,223.8 507.3,223.4 507.4,222.9 507.5,222.3 507.6,221.6 507.7,220.8 507.7,220.0 507.8,219.1 507.9,218.2 508.0,217.3 508.1,216.3 508.2,215.3 508.2,214.4 508.3,213.4 508.4,212.5 508.5,211.6 508.6,210.7 508.7,209.9 508.7,209.2 508.8,208.5 508.9,207.9 509.0,207.4 509.1,207.0 509.2,206.6 509.2,206.4 509.3,206.3 509.4,206.3 509.5,206.6 509.6,207.2 509.7,208.2 509.7,209.4 509.8,210.9 509.9,212.5 510.0,214.2 510.1,216.0 510.2,217.7 510.3,219.2 510.3,220.6 510.4,221.7 510.5,222.4 510.6,222.8 510.7,222.7 510.8,222.2 510.8,221.3 510.9,220.1 511.0,218.5 511.1,216.5 511.2,214.3 511.3,211.8 511.3,209.0 511.4,206.1 511.5,203.0 511.6,199.9 511.7,196.7 511.8,193.6 511.8,190.6 511.9,187.7 512.0,185.1 512.1,182.6 512.2,180.4 512.3,178.5 512.3,176.9 512.4,175.4 512.5,174.3 512.6,173.3 512.7,172.6 512.8,172.0 512.8,171.6 512.9,171.4 513.0,171.3 513.1,171.4 513.2,171.7 513.3,172.2 513.4,173.1 513.4,174.3 513.5,175.9 513.6,177.9 513.7,180.4 513.8,183.2 513.9,186.3 513.9,189.5 514.0,192.9 514.1,196.2 514.2,199.3 514.3,202.0 514.4,204.5 514.4,206.8 514.5,208.9 514.6,210.8 514.7,212.4 514.8,213.8 514.9,215.0 514.9,216.0 515.0,216.8 515.1,217.4 515.2,217.8 515.3,218.1 515.4,218.3 515.4,218.4 515.5,218.4 515.6,218.3 515.7,218.2 515.8,218.1 515.9,217.9 516.0,217.7 516.0,217.6 516.1,217.4 516.2,217.3 516.3,217.2 516.4,217.2 516.5,217.2 516.5,217.2 516.6,217.3 516.7,217.4 516.8,217.5 516.9,217.7 517.0,217.9 517.0,218.2 517.1,218.4 517.2,218.7 517.3,219.1 517.4,219.4 517.5,219.8 517.5,220.1 517.6,220.5 517.7,220.9 517.8,221.3 517.9,221.6 518.0,222.0 518.0,222.3 518.1,222.6 518.2,222.9 518.3,223.2 518.4,223.4 518.5,223.6 518.5,223.7 518.6,223.8 518.7,223.9 518.8,224.0 518.9,223.9 519.0,223.7 519.1,223.4 519.1,223.0 519.2,222.5 519.3,221.8 519.4,221.1 519.5,220.4 519.6,219.6 519.6,218.9 519.7,218.1 519.8,217.5 519.9,216.9 520.0,216.4 520.1,216.0 520.1,215.8 520.2,215.7 520.3,215.7 520.4,215.8 520.5,215.9 520.6,216.0 520.6,216.1 520.7,216.2 520.8,216.3 520.9,216.5 521.0,216.6 521.1,216.7 521.1,216.8 521.2,216.9 521.3,217.0 521.4,217.0"/>
<polyline fill="none" stroke="#f4531a" stroke-width="1.75" stroke-linejoin="round" points="320.2,187.1 320.3,185.8 320.5,187.3 320.6,187.8 320.8,189.3 320.9,188.6 321.1,186.9 321.2,188.7 321.3,188.4 321.5,190.5 321.6,191.0 321.8,192.1 321.9,196.0 322.1,192.2 322.2,193.4 322.4,193.8 322.5,198.0 322.6,198.2 322.8,196.8 322.9,196.1 323.1,194.8 323.2,195.4 323.4,194.6 323.5,196.7 323.6,195.2 323.8,195.3 323.9,197.3 324.1,193.4 324.2,195.7 324.4,194.8 324.5,198.3 324.7,198.8 324.8,198.5 324.9,198.4 325.1,197.5 325.2,198.5 325.4,200.1 325.5,201.4 325.7,201.0 325.8,198.3 325.9,202.2 326.1,200.8 326.2,200.8 326.4,204.5 326.5,202.1 326.7,200.3 326.8,206.4 327.0,203.7 327.1,203.6 327.2,205.1 327.4,203.0 327.5,204.2 327.7,206.9 327.8,203.0 328.0,203.4 328.1,203.0 328.2,202.2 328.4,204.1 328.5,204.6 328.7,207.0 328.8,203.6 329.0,205.7 329.1,205.3 329.3,206.5 329.4,205.8 329.5,204.8 329.7,201.4 329.8,207.0 330.0,205.7 330.1,202.4 330.3,200.0 330.4,201.1 330.5,205.1 330.7,205.9 330.8,200.5 331.0,202.0 331.1,202.3 331.3,198.3 331.4,197.7 331.6,199.1 331.7,198.6 331.8,198.0 332.0,195.6 332.1,197.1 332.3,197.0 332.4,196.8 332.6,200.3 332.7,195.2 332.8,195.6 333.0,196.3 333.1,200.6 333.3,198.2 333.4,195.6 333.6,200.2 333.7,197.3 333.9,195.1 334.0,199.0 334.1,193.7 334.3,195.4 334.4,196.3 334.6,195.3 334.7,194.4 334.9,195.0 335.0,192.9 335.1,195.7 335.3,195.0 335.4,192.1 335.6,193.5 335.7,194.7 335.9,191.1 336.0,189.9 336.2,192.9 336.3,194.2 336.4,191.7 336.6,191.4 336.7,191.4 336.9,188.1 337.0,192.1 337.2,187.9 337.3,192.2 337.4,191.2 337.6,188.6 337.7,187.6 337.9,188.0 338.0,188.9 338.2,189.2 338.3,189.2 338.5,188.4 338.6,189.7 338.7,188.9 338.9,188.3 339.0,189.2 339.2,187.8 339.3,188.1 339.5,185.5 339.6,188.4 339.7,189.6 339.9,189.5 340.0,188.8 340.2,187.1 340.3,189.2 340.5,187.9 340.6,185.4 340.8,193.0 340.9,190.5 341.0,188.1 341.2,188.0 341.3,188.4 341.5,189.8 341.6,188.2 341.8,189.2 341.9,191.0 342.0,186.2 342.2,190.3 342.3,192.4 342.5,192.0 342.6,192.7 342.8,192.8 342.9,197.9 343.1,194.3 343.2,191.9 343.3,196.0 343.5,194.2 343.6,192.6 343.8,192.8 343.9,191.7 344.1,197.2 344.2,194.9 344.3,194.8 344.5,193.1 344.6,192.2 344.8,198.8 344.9,192.2 345.1,196.6 345.2,192.8 345.3,196.5 345.5,193.6 345.6,191.7 345.8,194.0 345.9,193.4 346.1,192.3 346.2,193.3 346.4,193.7 346.5,190.8 346.6,191.6 346.8,193.9 346.9,188.6 347.1,195.4 347.2,191.7 347.4,193.8 347.5,193.1 347.6,192.1 347.8,192.9 347.9,192.1 348.1,195.8 348.2,195.6 348.4,191.8 348.5,194.4 348.7,194.3 348.8,194.8 348.9,189.8 349.1,190.4 349.2,188.9 349.4,192.8 349.5,190.9 349.7,192.6 349.8,189.0 349.9,187.3 350.1,191.4 350.2,186.8 350.4,187.6 350.5,189.5 350.7,192.4 350.8,186.4 351.0,188.9 351.1,189.7 351.2,187.9 351.4,187.8 351.5,185.9 351.7,190.3 351.8,186.6 352.0,186.0 352.1,186.1 352.2,189.0 352.4,190.0 352.5,187.0 352.7,188.7 352.8,188.7 353.0,186.5 353.1,189.5 353.3,193.2 353.4,189.9 353.5,192.6 353.7,188.0 353.8,189.0 354.0,190.7 354.1,189.7 354.3,188.3 354.4,189.7 354.5,187.6 354.7,190.1 354.8,188.3 355.0,187.6 355.1,187.4 355.3,191.5 355.4,188.8 355.6,193.7 355.7,192.3 355.8,193.9 356.0,188.6 356.1,192.6 356.3,190.5 356.4,190.8 356.6,190.5 356.7,191.5 356.8,190.1 357.0,187.4 357.1,190.4 357.3,189.6 357.4,188.8 357.6,190.9 357.7,192.8 357.9,191.6 358.0,188.8 358.1,193.6 358.3,191.8 358.4,189.0 358.6,189.4 358.7,190.8 358.9,189.5 359.0,190.6 359.1,193.0 359.3,193.7 359.4,192.2 359.6,189.5 359.7,192.1 359.9,192.7 360.0,192.5 360.2,193.9 360.3,191.4 360.4,193.3 360.6,190.7 360.7,195.4 360.9,190.8 361.0,192.5 361.2,194.8 361.3,190.1 361.4,191.9 361.6,195.3 361.7,192.9 361.9,190.9 362.0,192.2 362.2,190.1 362.3,190.1 362.5,190.3 362.6,190.9 362.7,189.2 362.9,190.4 363.0,190.8 363.2,195.3 363.3,190.1 363.5,189.4 363.6,192.3 363.7,192.7 363.9,188.5 364.0,195.1 364.2,191.2 364.3,187.9 364.5,193.8 364.6,191.1 364.8,189.0 364.9,192.6 365.0,191.5 365.2,191.0 365.3,194.2 365.5,192.9 365.6,192.3 365.8,191.4 365.9,193.0 366.0,193.3 366.2,194.8 366.3,193.7 366.5,191.6 366.6,193.0 366.8,194.7 366.9,194.7 367.1,188.6 367.2,191.3 367.3,192.2 367.5,197.9 367.6,192.2 367.8,192.5 367.9,190.3 368.1,192.4 368.2,193.1 368.3,191.9 368.5,195.9 368.6,190.5 368.8,191.4 368.9,192.9 369.1,189.0 369.2,187.7 369.4,193.0 369.5,191.3 369.6,189.2 369.8,189.0 369.9,189.7 370.1,190.3 370.2,184.5 370.4,186.1 370.5,189.7 370.6,189.7 370.8,184.1 370.9,185.2 371.1,183.6 371.2,185.3 371.4,188.2 371.5,186.2 371.6,190.4 371.8,187.8 371.9,186.4 372.1,185.1 372.2,187.0 372.4,185.6 372.5,184.1 372.7,183.8 372.8,182.9 372.9,183.1 373.1,183.5 373.2,181.0 373.4,181.7 373.5,182.7 373.7,181.8 373.8,180.2 373.9,179.8 374.1,178.9 374.2,178.7 374.4,178.0 374.5,178.2 374.7,179.9 374.8,176.7 375.0,175.4 375.1,176.4 375.2,177.4 375.4,176.3 375.5,178.9 375.7,180.7 375.8,177.6 376.0,179.6 376.1,177.1 376.2,180.7 376.4,183.9 376.5,181.6 376.7,177.6 376.8,181.5 377.0,183.8 377.1,183.2 377.3,181.4 377.4,181.9 377.5,182.8 377.7,180.8 377.8,182.3 378.0,183.8 378.1,182.7 378.3,180.9 378.4,182.0 378.5,181.9 378.7,185.5 378.8,183.7 379.0,182.1 379.1,183.7 379.3,181.1 379.4,181.8 379.6,181.0 379.7,182.8 379.8,177.7 380.0,179.8 380.1,182.1 380.3,181.4 380.4,176.7 380.6,181.7 380.7,179.4 380.8,179.0 381.0,180.5 381.1,182.4 381.3,179.9 381.4,179.5 381.6,178.1 381.7,178.6 381.9,179.9 382.0,178.5 382.1,179.0 382.3,179.5 382.4,179.6 382.6,180.0 382.7,178.1 382.9,180.9 383.0,179.9 383.1,178.5 383.3,180.8 383.4,178.7 383.6,181.1 383.7,178.4 383.9,175.9 384.0,175.6 384.2,176.4 384.3,176.4 384.4,178.3 384.6,172.4 384.7,174.5 384.9,173.4 385.0,176.8 385.2,175.5 385.3,178.4 385.4,174.0 385.6,173.9 385.7,179.2 385.9,176.4 386.0,175.7 386.2,180.5 386.3,181.2 386.5,180.4 386.6,180.3 386.7,182.2 386.9,180.2 387.0,180.3 387.2,180.1 387.3,180.3 387.5,179.1 387.6,179.8 387.7,184.2 387.9,182.9 388.0,184.1 388.2,184.5 388.3,183.2 388.5,183.7 388.6,183.5 388.8,187.9 388.9,188.0 389.0,186.7 389.2,187.9 389.3,188.9 389.5,189.2 389.6,191.2 389.8,189.3 389.9,190.5 390.0,191.7 390.2,193.1 390.3,192.5 390.5,197.1 390.6,194.1 390.8,192.3 390.9,195.1 391.1,192.1 391.2,192.3 391.3,195.1 391.5,193.2 391.6,193.4 391.8,192.2 391.9,192.1 392.1,193.4 392.2,195.0 392.3,193.9 392.5,193.9 392.6,192.7 392.8,193.7 392.9,195.6 393.1,196.9 393.2,195.3 393.4,196.1 393.5,196.8 393.6,195.2 393.8,195.9 393.9,195.0 394.1,194.3 394.2,195.9 394.4,191.2 394.5,195.8 394.6,193.3 394.8,194.9 394.9,193.1 395.1,199.2 395.2,196.2 395.4,194.3 395.5,193.6 395.6,190.4 395.8,193.8 395.9,191.9 396.1,192.7 396.2,192.2 396.4,192.8 396.5,193.8 396.7,192.5 396.8,195.1 396.9,191.0 397.1,194.7 397.2,192.3 397.4,189.0 397.5,193.0 397.7,192.5 397.8,190.4 397.9,192.3 398.1,193.8 398.2,191.9 398.4,191.3 398.5,191.1 398.7,193.6 398.8,189.1 399.0,189.2 399.1,191.9 399.2,191.4 399.4,192.5 399.5,189.1 399.7,192.7 399.8,190.1 400.0,191.9 400.1,192.1 400.2,189.5 400.4,188.2 400.5,190.4 400.7,191.5 400.8,188.7 401.0,190.1 401.1,189.3 401.3,187.1 401.4,187.7 401.5,190.5 401.7,185.5 401.8,189.5 402.0,188.1 402.1,190.6 402.3,189.6 402.4,192.6 402.5,186.5 402.7,187.3 402.8,192.0 403.0,192.6 403.1,192.9 403.3,188.1 403.4,191.2 403.6,190.6 403.7,191.2 403.8,191.1 404.0,192.9 404.1,191.1 404.3,193.9 404.4,191.6 404.6,191.1 404.7,191.0 404.8,192.3 405.0,193.6 405.1,191.9 405.3,193.1 405.4,189.5 405.6,191.0 405.7,192.6 405.9,193.2 406.0,193.6 406.1,194.0 406.3,193.0 406.4,191.8 406.6,191.4 406.7,191.3 406.9,188.5 407.0,193.4 407.1,192.1 407.3,187.2 407.4,195.3 407.6,192.9 407.7,191.6 407.9,191.6 408.0,191.0 408.2,192.1 408.3,191.0 408.4,191.4 408.6,190.1 408.7,194.7 408.9,192.9 409.0,191.2 409.2,193.0 409.3,192.9 409.4,189.9 409.6,192.1 409.7,189.8 409.9,189.5 410.0,190.2 410.2,189.8 410.3,190.9 410.5,193.1 410.6,190.6 410.7,189.8 410.9,191.4 411.0,190.7 411.2,189.2 411.3,192.0 411.5,189.3 411.6,187.2 411.7,191.4 411.9,190.2 412.0,190.7 412.2,187.8 412.3,189.9 412.5,188.9 412.6,191.7 412.8,190.6 412.9,190.6 413.0,193.7 413.2,188.1 413.3,189.1 413.5,193.8 413.6,189.4 413.8,191.0 413.9,190.0 414.0,190.2 414.2,193.5 414.3,191.3 414.5,188.3 414.6,192.0 414.8,192.8 414.9,193.4 415.1,193.2 415.2,190.5 415.3,188.2 415.5,190.4 415.6,190.8 415.8,187.3 415.9,192.2 416.1,192.5 416.2,190.4 416.3,190.4 416.5,193.1 416.6,193.4 416.8,190.9 416.9,191.0 417.1,193.7 417.2,191.8 417.4,192.4 417.5,190.6 417.6,191.5 417.8,191.3 417.9,191.6 418.1,189.0 418.2,188.2 418.4,191.1 418.5,188.7 418.6,191.3 418.8,189.6 418.9,188.2 419.1,186.6 419.2,189.8 419.4,189.0 419.5,188.4 419.7,191.3 419.8,188.6 419.9,189.7 420.1,187.9 420.2,190.5 420.4,192.0 420.5,188.5 420.7,188.2 420.8,189.6 420.9,187.1 421.1,189.2 421.2,189.8 421.4,188.0 421.5,191.6 421.7,190.1 421.8,189.0 421.9,187.6 422.1,189.4 422.2,188.6 422.4,190.4 422.5,188.8 422.7,186.5 422.8,190.7 423.0,185.4 423.1,190.8 423.2,189.7 423.4,189.5 423.5,188.0 423.7,192.1 423.8,193.7 424.0,189.0 424.1,188.7 424.2,189.1 424.4,185.6 424.5,189.9 424.7,189.9 424.8,188.7 425.0,189.7 425.1,187.5 425.3,192.6 425.4,191.1 425.5,196.5 425.7,189.0 425.8,191.1 426.0,188.8 426.1,186.5 426.3,190.2 426.4,190.5 426.5,190.7 426.7,191.1 426.8,190.4 427.0,187.9 427.1,188.7 427.3,188.3 427.4,188.4 427.6,186.2 427.7,186.6 427.8,187.4 428.0,185.6 428.1,186.7 428.3,188.2 428.4,183.3 428.6,184.8 428.7,187.1 428.8,183.3 429.0,184.4 429.1,187.6 429.3,182.0 429.4,184.2 429.6,183.2 429.7,184.4 429.9,184.9 430.0,187.3 430.1,182.8 430.3,184.4 430.4,184.8 430.6,183.5 430.7,183.8 430.9,182.6 431.0,184.2 431.1,183.4 431.3,186.9 431.4,183.6 431.6,181.4 431.7,180.0 431.9,182.7 432.0,182.0 432.2,178.7 432.3,181.7 432.4,179.6 432.6,177.6 432.7,180.2 432.9,177.8 433.0,180.9 433.2,179.0 433.3,179.2 433.4,178.7 433.6,176.6 433.7,174.2 433.9,179.3 434.0,179.0 434.2,176.9 434.3,179.5 434.5,176.6 434.6,176.3 434.7,177.7 434.9,176.2 435.0,179.8 435.2,175.8 435.3,179.8 435.5,178.3 435.6,178.1 435.7,177.9 435.9,175.7 436.0,177.2 436.2,178.1 436.3,176.5 436.5,174.8 436.6,177.7 436.8,177.2 436.9,175.8 437.0,177.7 437.2,180.5 437.3,174.1 437.5,174.8 437.6,182.3 437.8,179.1 437.9,178.4 438.0,177.7 438.2,178.4 438.3,180.2 438.5,181.8 438.6,179.9 438.8,178.5 438.9,182.4 439.1,182.4 439.2,180.8 439.3,184.3 439.5,181.5 439.6,182.0 439.8,180.6 439.9,182.7 440.1,183.1 440.2,182.3 440.3,181.8 440.5,182.9 440.6,181.8 440.8,180.5 440.9,179.8 441.1,178.9 441.2,183.2 441.4,182.6 441.5,186.2 441.6,178.5 441.8,183.1 441.9,181.9 442.1,180.9 442.2,184.2 442.4,181.0 442.5,181.8 442.6,185.0 442.8,181.2 442.9,179.6 443.1,185.0 443.2,180.3 443.4,181.3 443.5,180.8 443.7,180.8 443.8,179.3 443.9,181.9 444.1,180.0 444.2,182.2 444.4,180.2 444.5,182.9 444.7,181.6 444.8,178.4 444.9,180.6 445.1,181.6 445.2,183.3 445.4,182.7 445.5,180.9 445.7,179.6 445.8,180.5 445.9,180.3 446.1,181.2 446.2,178.8 446.4,181.8 446.5,182.0 446.7,179.5 446.8,180.9 447.0,181.5 447.1,182.0 447.2,181.4 447.4,179.9 447.5,180.3 447.7,183.1 447.8,180.2 448.0,180.6 448.1,182.7 448.2,179.6 448.4,181.4 448.5,181.5 448.7,179.5 448.8,178.6 449.0,182.1 449.1,180.1 449.3,182.5 449.4,176.9 449.5,181.8 449.7,178.8 449.8,182.1 450.0,179.5 450.1,177.1 450.3,185.4 450.4,181.7 450.5,180.1 450.7,181.2 450.8,182.2 451.0,177.3 451.1,180.9 451.3,184.0 451.4,179.6 451.6,184.1 451.7,179.1 451.8,182.2 452.0,180.9 452.1,179.0 452.3,181.0 452.4,183.7 452.6,184.2 452.7,179.2 452.8,180.0 453.0,182.8 453.1,179.8 453.3,180.5 453.4,180.3 453.6,185.4 453.7,182.0 453.9,179.9 454.0,180.2 454.1,180.0 454.3,185.8 454.4,181.2 454.6,180.7 454.7,177.1 454.9,183.3 455.0,182.2 455.1,181.6 455.3,180.1 455.4,182.5 455.6,179.7 455.7,183.1 455.9,181.3 456.0,182.7 456.2,181.5 456.3,183.0 456.4,184.6 456.6,179.9 456.7,181.3 456.9,182.8 457.0,181.5 457.2,180.1 457.3,183.6 457.4,182.0 457.6,180.9 457.7,180.9 457.9,182.4 458.0,185.6 458.2,179.7 458.3,181.3 458.5,181.9 458.6,182.4 458.7,181.5 458.9,182.8 459.0,183.9 459.2,183.5 459.3,183.4 459.5,183.5 459.6,184.6 459.7,181.6 459.9,185.1 460.0,181.8 460.2,184.9 460.3,182.7 460.5,181.1 460.6,183.3 460.8,185.1 460.9,184.0 461.0,184.0 461.2,187.5 461.3,185.7 461.5,184.5 461.6,185.8 461.8,185.0 461.9,184.0 462.0,184.2 462.2,184.1 462.3,184.8 462.5,186.4 462.6,186.1 462.8,186.7 462.9,186.8 463.1,186.7 463.2,189.5 463.3,187.1 463.5,186.6 463.6,188.3 463.8,186.7 463.9,185.7 464.1,186.9 464.2,183.0 464.3,191.3 464.5,187.2 464.6,190.1 464.8,185.3 464.9,182.5 465.1,191.7 465.2,187.2 465.4,186.7 465.5,188.4 465.6,187.1 465.8,192.2 465.9,187.0 466.1,188.1 466.2,188.9 466.4,190.3 466.5,188.4 466.6,190.6 466.8,189.6 466.9,191.2 467.1,194.5 467.2,190.8 467.4,190.7 467.5,190.0 467.7,193.1 467.8,191.8 467.9,190.9 468.1,191.9 468.2,190.2 468.4,189.1 468.5,194.3 468.7,196.2 468.8,191.5 468.9,190.4 469.1,191.6 469.2,191.8 469.4,194.4 469.5,194.6 469.7,191.8 469.8,194.9 470.0,196.5 470.1,195.0 470.2,188.8 470.4,189.7 470.5,194.2 470.7,194.1 470.8,192.3 471.0,193.9 471.1,190.2 471.2,192.4 471.4,194.0 471.5,189.6 471.7,192.7 471.8,191.1 472.0,191.3 472.1,191.6 472.2,190.3 472.4,191.8 472.5,193.6 472.7,194.0 472.8,192.2 473.0,191.1 473.1,189.6 473.3,189.2 473.4,188.1 473.5,188.7 473.7,190.1 473.8,189.8 474.0,192.1 474.1,188.5 474.3,187.3 474.4,187.1 474.5,188.1 474.7,188.1 474.8,186.1 475.0,187.6 475.1,186.3 475.3,186.6 475.4,187.2 475.6,185.3 475.7,188.6 475.8,188.2 476.0,189.0 476.1,188.9 476.3,184.8 476.4,184.4 476.6,187.5 476.7,186.5 476.8,185.4 477.0,186.0 477.1,185.3 477.3,189.6 477.4,188.4 477.6,186.5 477.7,184.7 477.9,187.0 478.0,188.7 478.1,187.8 478.3,188.3 478.4,188.6 478.6,184.4 478.7,188.1 478.9,186.9 479.0,183.1 479.1,184.8 479.3,186.3 479.4,187.9 479.6,186.1 479.7,183.9 479.9,185.6 480.0,184.5 480.2,186.5 480.3,185.8 480.4,187.0 480.6,185.9 480.7,184.4 480.9,189.1 481.0,186.7 481.2,186.2 481.3,187.6 481.4,187.2 481.6,185.2 481.7,183.1 481.9,185.4 482.0,185.9 482.2,189.2 482.3,183.1 482.5,186.2 482.6,186.4 482.7,188.2 482.9,186.3 483.0,188.1 483.2,186.0 483.3,185.2 483.5,185.9 483.6,185.4 483.7,187.3 483.9,183.2 484.0,186.8 484.2,188.8 484.3,185.8 484.5,186.8 484.6,187.1 484.8,185.9 484.9,184.7 485.0,187.2 485.2,185.3 485.3,182.5 485.5,183.8 485.6,185.2 485.8,184.7 485.9,185.1 486.0,184.9 486.2,183.5 486.3,184.9 486.5,189.0 486.6,184.8 486.8,186.3 486.9,183.6 487.1,185.8 487.2,184.5 487.3,181.0 487.5,186.7 487.6,186.8 487.8,187.4 487.9,189.2 488.1,188.3 488.2,184.5 488.3,186.3 488.5,188.5 488.6,187.9 488.8,184.3 488.9,186.9 489.1,186.2 489.2,185.1 489.4,183.4 489.5,182.5 489.6,184.1 489.8,185.8 489.9,185.8 490.1,183.0 490.2,183.8 490.4,186.9 490.5,185.6 490.6,186.0 490.8,186.4 490.9,187.4 491.1,188.9 491.2,187.5 491.4,189.3 491.5,184.5 491.7,185.7 491.8,188.7 491.9,184.1 492.1,185.0 492.2,189.8 492.4,183.2 492.5,184.9 492.7,182.6 492.8,188.2 492.9,185.0 493.1,185.0 493.2,185.3 493.4,185.2 493.5,183.5 493.7,187.7 493.8,187.1 494.0,187.2 494.1,185.6 494.2,185.5 494.4,183.6 494.5,183.6 494.7,183.8 494.8,184.9 495.0,184.4 495.1,181.8 495.2,182.0 495.4,183.0 495.5,183.7 495.7,180.3 495.8,184.0 496.0,181.7 496.1,180.8 496.2,183.3 496.4,181.4 496.5,184.8 496.7,181.0 496.8,182.3 497.0,185.3 497.1,181.2 497.3,183.8 497.4,179.8 497.5,183.1 497.7,181.9 497.8,180.9 498.0,181.7 498.1,180.4 498.3,181.5 498.4,179.1 498.5,179.9 498.7,179.2 498.8,184.1 499.0,176.9 499.1,178.6 499.3,181.5 499.4,177.9 499.6,177.0 499.7,175.7 499.8,179.2 500.0,174.3 500.1,177.1 500.3,172.5 500.4,176.8 500.6,175.2 500.7,176.9 500.8,178.2 501.0,174.2 501.1,174.5 501.3,173.5 501.4,174.7 501.6,177.4 501.7,179.5 501.9,178.0 502.0,178.3 502.1,178.9 502.3,176.8 502.4,177.7 502.6,179.2 502.7,178.9 502.9,180.0 503.0,179.9 503.1,179.5 503.3,179.7 503.4,183.2 503.6,185.2 503.7,180.7 503.9,183.5 504.0,182.4 504.2,187.7 504.3,185.9 504.4,185.8 504.6,188.9 504.7,187.7 504.9,185.9 505.0,185.6 505.2,185.0 505.3,189.6 505.4,190.7 505.6,187.5 505.7,186.9 505.9,188.2 506.0,190.8 506.2,187.2 506.3,187.2 506.5,187.6 506.6,189.5 506.7,188.2 506.9,187.4 507.0,189.8 507.2,192.1 507.3,188.4 507.5,188.2 507.6,189.1 507.7,187.7 507.9,190.3 508.0,189.6 508.2,190.1 508.3,188.6 508.5,187.0 508.6,190.3 508.8,186.4 508.9,187.5 509.0,188.9 509.2,189.4 509.3,187.4 509.5,191.0 509.6,191.0 509.8,192.8 509.9,190.2 510.0,188.8 510.2,190.3 510.3,190.6 510.5,191.8 510.6,191.3 510.8,194.2 510.9,190.0 511.1,192.6 511.2,193.9 511.3,193.4 511.5,193.6 511.6,190.7 511.8,190.4 511.9,194.6 512.1,190.7 512.2,190.8 512.3,193.4 512.5,195.0 512.6,193.7 512.8,193.5 512.9,191.7 513.1,192.9 513.2,195.7 513.4,191.7 513.5,194.6 513.6,190.2 513.8,193.8 513.9,192.7 514.1,192.8 514.2,192.0 514.4,188.5 514.5,189.1 514.6,189.3 514.8,189.5 514.9,192.5 515.1,190.4 515.2,190.1 515.4,190.6 515.5,187.6 515.7,189.5 515.8,189.1 515.9,189.4 516.1,190.9 516.2,185.9 516.4,184.3 516.5,186.0 516.7,187.7 516.8,190.4 516.9,185.1 517.1,183.0 517.2,184.3 517.4,183.0 517.5,181.8 517.7,182.1 517.8,184.7 518.0,181.9 518.1,182.2 518.2,186.1 518.4,183.9 518.5,185.6 518.7,183.2 518.8,181.9 519.0,184.7 519.1,186.4 519.2,180.5 519.4,182.2 519.5,180.3 519.7,185.3 519.8,181.3 520.0,179.7 520.1,180.0 520.3,184.2 520.4,183.6 520.5,184.6 520.7,182.9 520.8,183.2 521.0,185.1 521.1,187.9 521.3,184.5 521.4,186.9"/>
</g>
<rect class="ax" x="320.2" y="137.0" width="201.2" height="91.4"/>
<line class="ax" x1="320.2" y1="228.4" x2="322.2" y2="228.4"/>
<line class="ax" x1="521.4" y1="228.4" x2="519.4" y2="228.4"/>
<text class="tk" x="316.4" y="231.3" text-anchor="end">0.4</text>
<line class="ax" x1="320.2" y1="213.2" x2="322.2" y2="213.2"/>
<line class="ax" x1="521.4" y1="213.2" x2="519.4" y2="213.2"/>
<text class="tk" x="316.4" y="216.1" text-anchor="end">0.6</text>
<line class="ax" x1="320.2" y1="197.9" x2="322.2" y2="197.9"/>
<line class="ax" x1="521.4" y1="197.9" x2="519.4" y2="197.9"/>
<text class="tk" x="316.4" y="200.8" text-anchor="end">0.8</text>
<line class="ax" x1="320.2" y1="182.7" x2="322.2" y2="182.7"/>
<line class="ax" x1="521.4" y1="182.7" x2="519.4" y2="182.7"/>
<text class="tk" x="316.4" y="185.6" text-anchor="end">1.0</text>
<line class="ax" x1="320.2" y1="167.5" x2="322.2" y2="167.5"/>
<line class="ax" x1="521.4" y1="167.5" x2="519.4" y2="167.5"/>
<text class="tk" x="316.4" y="170.4" text-anchor="end">1.2</text>
<line class="ax" x1="320.2" y1="152.2" x2="322.2" y2="152.2"/>
<line class="ax" x1="521.4" y1="152.2" x2="519.4" y2="152.2"/>
<text class="tk" x="316.4" y="155.1" text-anchor="end">1.4</text>
<line class="ax" x1="320.2" y1="137.0" x2="322.2" y2="137.0"/>
<line class="ax" x1="521.4" y1="137.0" x2="519.4" y2="137.0"/>
<text class="tk" x="316.4" y="139.9" text-anchor="end">1.6</text>
<line class="ax" x1="320.2" y1="228.4" x2="320.2" y2="226.4"/>
<line class="ax" x1="320.2" y1="137.0" x2="320.2" y2="139.0"/>
<text class="tk" x="320.2" y="237.4" text-anchor="middle">0</text>
<line class="ax" x1="353.7" y1="228.4" x2="353.7" y2="226.4"/>
<line class="ax" x1="353.7" y1="137.0" x2="353.7" y2="139.0"/>
<text class="tk" x="353.7" y="237.4" text-anchor="middle">2</text>
<line class="ax" x1="387.3" y1="228.4" x2="387.3" y2="226.4"/>
<line class="ax" x1="387.3" y1="137.0" x2="387.3" y2="139.0"/>
<text class="tk" x="387.3" y="237.4" text-anchor="middle">4</text>
<line class="ax" x1="420.8" y1="228.4" x2="420.8" y2="226.4"/>
<line class="ax" x1="420.8" y1="137.0" x2="420.8" y2="139.0"/>
<text class="tk" x="420.8" y="237.4" text-anchor="middle">6</text>
<line class="ax" x1="454.3" y1="228.4" x2="454.3" y2="226.4"/>
<line class="ax" x1="454.3" y1="137.0" x2="454.3" y2="139.0"/>
<text class="tk" x="454.3" y="237.4" text-anchor="middle">8</text>
<line class="ax" x1="487.9" y1="228.4" x2="487.9" y2="226.4"/>
<line class="ax" x1="487.9" y1="137.0" x2="487.9" y2="139.0"/>
<text class="tk" x="487.9" y="237.4" text-anchor="middle">10</text>
<line class="ax" x1="521.4" y1="228.4" x2="521.4" y2="226.4"/>
<line class="ax" x1="521.4" y1="137.0" x2="521.4" y2="139.0"/>
<text class="tk" x="521.4" y="237.4" text-anchor="middle">12</text>
<text class="tk" x="419" y="245.6" text-anchor="middle" style="font-size:8.9px">Time, s</text>
<text class="tk" transform="translate(297.0 183) rotate(-90)" text-anchor="middle" style="font-size:8.9px">Intensity, a.u.</text>
<rect x="421.7" y="141.4" width="93.6" height="20" fill="#fff" stroke="#333" stroke-width="0.8"/>
<line x1="425" y1="146.8" x2="436" y2="146.8" stroke="#1f86d9" stroke-width="1"/>
<line x1="425" y1="155.2" x2="436" y2="155.2" stroke="#f4541a" stroke-width="1"/>
<text class="tk" x="441.6" y="149.6" style="font-size:9.1px">With disturbance</text>
<text class="tk" x="441.6" y="158" style="font-size:9.1px">Without disturbance</text>
</g>
</svg></body></html>
